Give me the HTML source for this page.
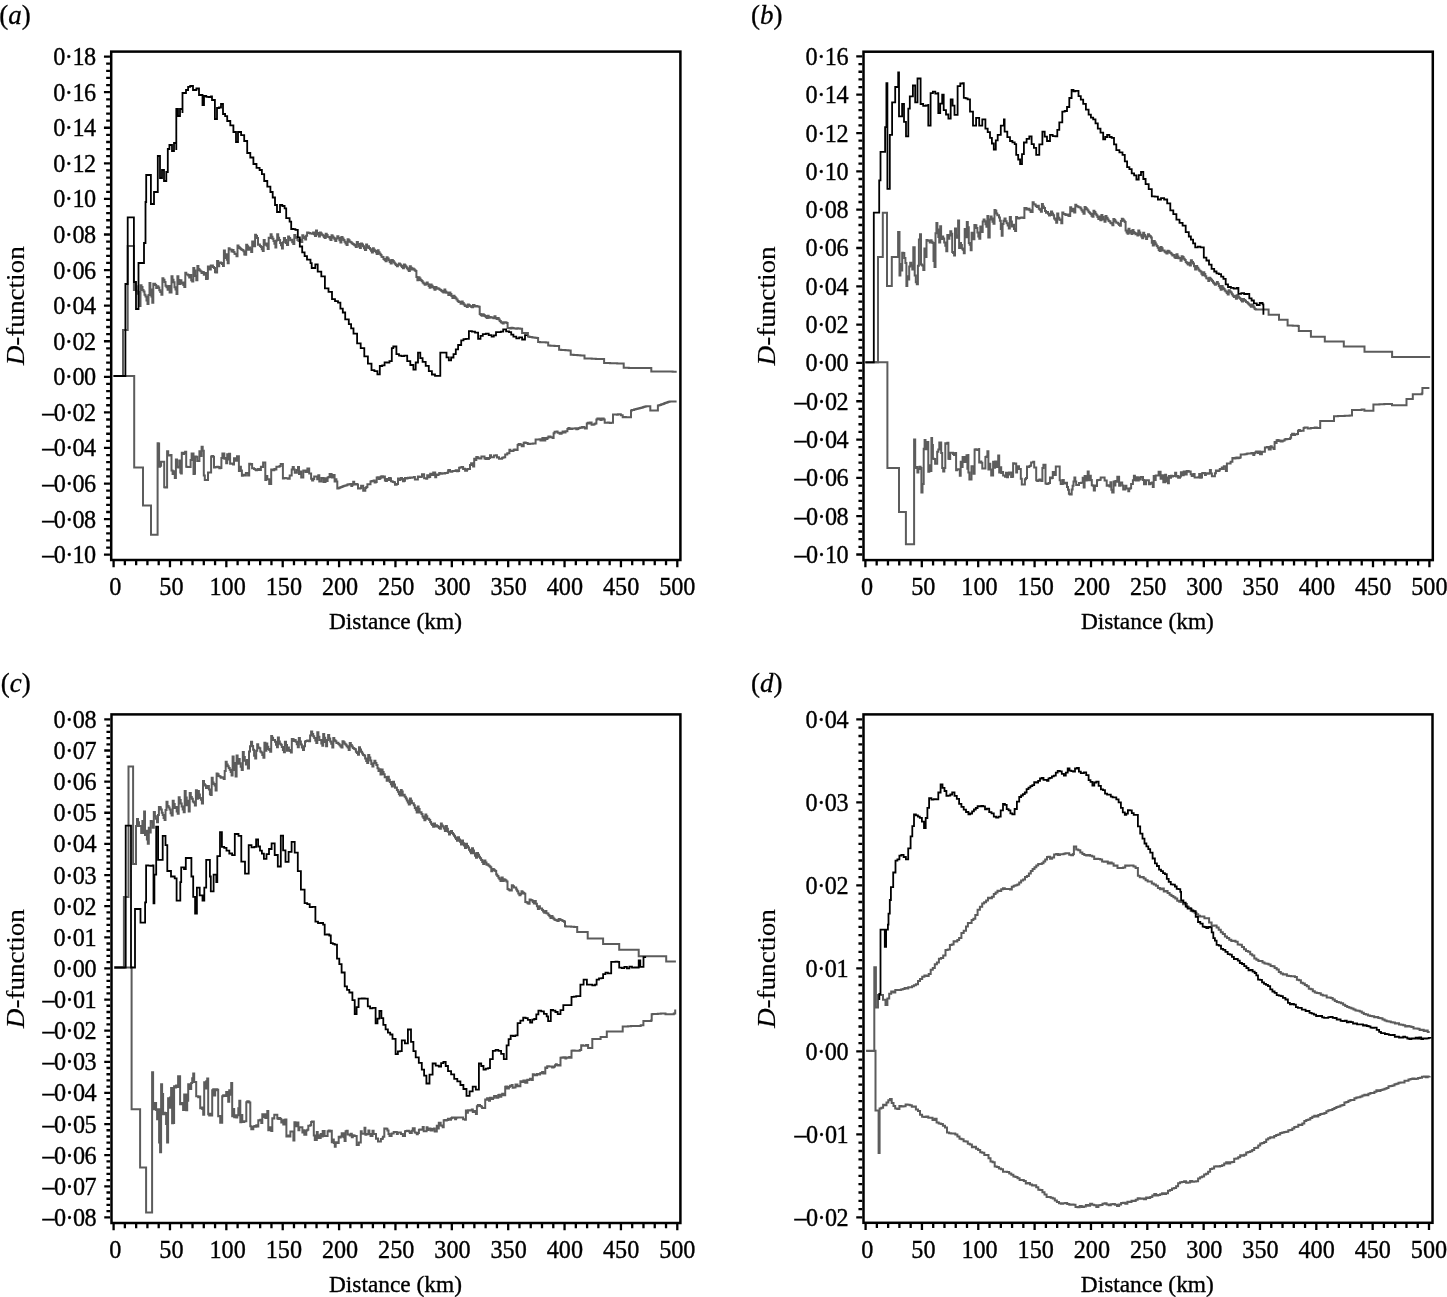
<!DOCTYPE html>
<html><head><meta charset="utf-8"><style>
html,body{margin:0;padding:0;background:#fff;}
svg{display:block;}
.t{font-family:"Liberation Serif", "DejaVu Serif", serif;font-size:24.2px;fill:#000;stroke:#000;stroke-width:0.35px;}
.xl{font-family:"Liberation Serif", "DejaVu Serif", serif;font-size:23.6px;fill:#000;stroke:#000;stroke-width:0.35px;}
.yl{font-family:"Liberation Serif", "DejaVu Serif", serif;font-size:26px;fill:#000;stroke:#000;stroke-width:0.15px;}
.pl{font-family:"Liberation Serif", "DejaVu Serif", serif;font-size:27px;fill:#000;stroke:#000;stroke-width:0.3px;}
</style></head><body>
<svg width="1447" height="1297" viewBox="0 0 1447 1297">
<rect width="1447" height="1297" fill="#fff"/>
<rect x="111.20" y="51.60" width="569.20" height="508.40" fill="none" stroke="#000" stroke-width="2.5"/>
<path d="M113.60 560.00V567.20M124.87 560.00V565.30M136.15 560.00V565.30M147.42 560.00V565.30M158.70 560.00V565.30M169.97 560.00V567.20M181.24 560.00V565.30M192.52 560.00V565.30M203.79 560.00V565.30M215.07 560.00V565.30M226.34 560.00V567.20M237.61 560.00V565.30M248.89 560.00V565.30M260.16 560.00V565.30M271.44 560.00V565.30M282.71 560.00V567.20M293.98 560.00V565.30M305.26 560.00V565.30M316.53 560.00V565.30M327.81 560.00V565.30M339.08 560.00V567.20M350.35 560.00V565.30M361.63 560.00V565.30M372.90 560.00V565.30M384.18 560.00V565.30M395.45 560.00V567.20M406.72 560.00V565.30M418.00 560.00V565.30M429.27 560.00V565.30M440.55 560.00V565.30M451.82 560.00V567.20M463.09 560.00V565.30M474.37 560.00V565.30M485.64 560.00V565.30M496.92 560.00V565.30M508.19 560.00V567.20M519.46 560.00V565.30M530.74 560.00V565.30M542.01 560.00V565.30M553.29 560.00V565.30M564.56 560.00V567.20M575.83 560.00V565.30M587.11 560.00V565.30M598.38 560.00V565.30M609.66 560.00V565.30M620.93 560.00V567.20M632.20 560.00V565.30M643.48 560.00V565.30M654.75 560.00V565.30M666.03 560.00V565.30M677.30 560.00V567.20" stroke="#000" stroke-width="2.3" fill="none"/>
<path d="M109.95 56.60H103.95M109.95 63.72H106.15M109.95 70.83H106.15M109.95 77.95H106.15M109.95 85.06H106.15M109.95 92.18H103.95M109.95 99.29H106.15M109.95 106.41H106.15M109.95 113.53H106.15M109.95 120.64H106.15M109.95 127.76H103.95M109.95 134.87H106.15M109.95 141.99H106.15M109.95 149.10H106.15M109.95 156.22H106.15M109.95 163.34H103.95M109.95 170.45H106.15M109.95 177.57H106.15M109.95 184.68H106.15M109.95 191.80H106.15M109.95 198.91H103.95M109.95 206.03H106.15M109.95 213.15H106.15M109.95 220.26H106.15M109.95 227.38H106.15M109.95 234.49H103.95M109.95 241.61H106.15M109.95 248.72H106.15M109.95 255.84H106.15M109.95 262.96H106.15M109.95 270.07H103.95M109.95 277.19H106.15M109.95 284.30H106.15M109.95 291.42H106.15M109.95 298.53H106.15M109.95 305.65H103.95M109.95 312.77H106.15M109.95 319.88H106.15M109.95 327.00H106.15M109.95 334.11H106.15M109.95 341.23H103.95M109.95 348.34H106.15M109.95 355.46H106.15M109.95 362.58H106.15M109.95 369.69H106.15M109.95 376.81H103.95M109.95 383.92H106.15M109.95 391.04H106.15M109.95 398.15H106.15M109.95 405.27H106.15M109.95 412.39H103.95M109.95 419.50H106.15M109.95 426.62H106.15M109.95 433.73H106.15M109.95 440.85H106.15M109.95 447.96H103.95M109.95 455.08H106.15M109.95 462.20H106.15M109.95 469.31H106.15M109.95 476.43H106.15M109.95 483.54H103.95M109.95 490.66H106.15M109.95 497.77H106.15M109.95 504.89H106.15M109.95 512.01H106.15M109.95 519.12H103.95M109.95 526.24H106.15M109.95 533.35H106.15M109.95 540.47H106.15M109.95 547.58H106.15M109.95 554.70H103.95" stroke="#000" stroke-width="2.3" fill="none"/>
<text x="96.20" y="65.10" text-anchor="end" class="t" textLength="42.96" lengthAdjust="spacing">0·18</text>
<text x="96.20" y="100.68" text-anchor="end" class="t" textLength="42.96" lengthAdjust="spacing">0·16</text>
<text x="96.20" y="136.26" text-anchor="end" class="t" textLength="42.96" lengthAdjust="spacing">0·14</text>
<text x="96.20" y="171.84" text-anchor="end" class="t" textLength="42.96" lengthAdjust="spacing">0·12</text>
<text x="96.20" y="207.41" text-anchor="end" class="t" textLength="42.96" lengthAdjust="spacing">0·10</text>
<text x="96.20" y="242.99" text-anchor="end" class="t" textLength="42.96" lengthAdjust="spacing">0·08</text>
<text x="96.20" y="278.57" text-anchor="end" class="t" textLength="42.96" lengthAdjust="spacing">0·06</text>
<text x="96.20" y="314.15" text-anchor="end" class="t" textLength="42.96" lengthAdjust="spacing">0·04</text>
<text x="96.20" y="349.73" text-anchor="end" class="t" textLength="42.96" lengthAdjust="spacing">0·02</text>
<text x="96.20" y="385.31" text-anchor="end" class="t" textLength="42.96" lengthAdjust="spacing">0·00</text>
<text x="96.20" y="420.89" text-anchor="end" class="t" textLength="54.06" lengthAdjust="spacing">–0·02</text>
<text x="96.20" y="456.46" text-anchor="end" class="t" textLength="54.06" lengthAdjust="spacing">–0·04</text>
<text x="96.20" y="492.04" text-anchor="end" class="t" textLength="54.06" lengthAdjust="spacing">–0·06</text>
<text x="96.20" y="527.62" text-anchor="end" class="t" textLength="54.06" lengthAdjust="spacing">–0·08</text>
<text x="96.20" y="563.20" text-anchor="end" class="t" textLength="54.06" lengthAdjust="spacing">–0·10</text>
<text x="115.20" y="595.00" text-anchor="middle" class="t">0</text>
<text x="171.41" y="595.00" text-anchor="middle" class="t">50</text>
<text x="227.62" y="595.00" text-anchor="middle" class="t">100</text>
<text x="283.83" y="595.00" text-anchor="middle" class="t">150</text>
<text x="340.04" y="595.00" text-anchor="middle" class="t">200</text>
<text x="396.25" y="595.00" text-anchor="middle" class="t">250</text>
<text x="452.46" y="595.00" text-anchor="middle" class="t">300</text>
<text x="508.67" y="595.00" text-anchor="middle" class="t">350</text>
<text x="564.88" y="595.00" text-anchor="middle" class="t">400</text>
<text x="621.09" y="595.00" text-anchor="middle" class="t">450</text>
<text x="677.30" y="595.00" text-anchor="middle" class="t">500</text>
<text x="395.45" y="628.70" text-anchor="middle" class="xl" textLength="133" lengthAdjust="spacingAndGlyphs">Distance (km)</text>
<text transform="translate(23.50 305.80) rotate(-90)" text-anchor="middle" class="yl" textLength="119" lengthAdjust="spacingAndGlyphs"><tspan font-style="italic">D</tspan>-function</text>
<text x="-0.70" y="24.00" class="pl">(<tspan font-style="italic">a</tspan>)</text>
<rect x="863.50" y="51.70" width="569.30" height="508.40" fill="none" stroke="#000" stroke-width="2.5"/>
<path d="M865.40 560.10V567.30M876.68 560.10V565.40M887.96 560.10V565.40M899.24 560.10V565.40M910.52 560.10V565.40M921.80 560.10V567.30M933.08 560.10V565.40M944.36 560.10V565.40M955.64 560.10V565.40M966.92 560.10V565.40M978.20 560.10V567.30M989.48 560.10V565.40M1000.76 560.10V565.40M1012.04 560.10V565.40M1023.32 560.10V565.40M1034.60 560.10V567.30M1045.88 560.10V565.40M1057.16 560.10V565.40M1068.44 560.10V565.40M1079.72 560.10V565.40M1091.00 560.10V567.30M1102.28 560.10V565.40M1113.56 560.10V565.40M1124.84 560.10V565.40M1136.12 560.10V565.40M1147.40 560.10V567.30M1158.68 560.10V565.40M1169.96 560.10V565.40M1181.24 560.10V565.40M1192.52 560.10V565.40M1203.80 560.10V567.30M1215.08 560.10V565.40M1226.36 560.10V565.40M1237.64 560.10V565.40M1248.92 560.10V565.40M1260.20 560.10V567.30M1271.48 560.10V565.40M1282.76 560.10V565.40M1294.04 560.10V565.40M1305.32 560.10V565.40M1316.60 560.10V567.30M1327.88 560.10V565.40M1339.16 560.10V565.40M1350.44 560.10V565.40M1361.72 560.10V565.40M1373.00 560.10V567.30M1384.28 560.10V565.40M1395.56 560.10V565.40M1406.84 560.10V565.40M1418.12 560.10V565.40M1429.40 560.10V567.30" stroke="#000" stroke-width="2.3" fill="none"/>
<path d="M862.25 56.40H856.25M862.25 64.06H858.45M862.25 71.73H858.45M862.25 79.39H858.45M862.25 87.05H858.45M862.25 94.72H856.25M862.25 102.38H858.45M862.25 110.04H858.45M862.25 117.70H858.45M862.25 125.37H858.45M862.25 133.03H856.25M862.25 140.69H858.45M862.25 148.36H858.45M862.25 156.02H858.45M862.25 163.68H858.45M862.25 171.35H856.25M862.25 179.01H858.45M862.25 186.67H858.45M862.25 194.34H858.45M862.25 202.00H858.45M862.25 209.66H856.25M862.25 217.32H858.45M862.25 224.99H858.45M862.25 232.65H858.45M862.25 240.31H858.45M862.25 247.98H856.25M862.25 255.64H858.45M862.25 263.30H858.45M862.25 270.97H858.45M862.25 278.63H858.45M862.25 286.29H856.25M862.25 293.96H858.45M862.25 301.62H858.45M862.25 309.28H858.45M862.25 316.94H858.45M862.25 324.61H856.25M862.25 332.27H858.45M862.25 339.93H858.45M862.25 347.60H858.45M862.25 355.26H858.45M862.25 362.92H856.25M862.25 370.59H858.45M862.25 378.25H858.45M862.25 385.91H858.45M862.25 393.58H858.45M862.25 401.24H856.25M862.25 408.90H858.45M862.25 416.56H858.45M862.25 424.23H858.45M862.25 431.89H858.45M862.25 439.55H856.25M862.25 447.22H858.45M862.25 454.88H858.45M862.25 462.54H858.45M862.25 470.21H858.45M862.25 477.87H856.25M862.25 485.53H858.45M862.25 493.20H858.45M862.25 500.86H858.45M862.25 508.52H858.45M862.25 516.18H856.25M862.25 523.85H858.45M862.25 531.51H858.45M862.25 539.17H858.45M862.25 546.84H858.45M862.25 554.50H856.25" stroke="#000" stroke-width="2.3" fill="none"/>
<text x="848.50" y="64.90" text-anchor="end" class="t" textLength="42.96" lengthAdjust="spacing">0·16</text>
<text x="848.50" y="103.22" text-anchor="end" class="t" textLength="42.96" lengthAdjust="spacing">0·14</text>
<text x="848.50" y="141.53" text-anchor="end" class="t" textLength="42.96" lengthAdjust="spacing">0·12</text>
<text x="848.50" y="179.85" text-anchor="end" class="t" textLength="42.96" lengthAdjust="spacing">0·10</text>
<text x="848.50" y="218.16" text-anchor="end" class="t" textLength="42.96" lengthAdjust="spacing">0·08</text>
<text x="848.50" y="256.48" text-anchor="end" class="t" textLength="42.96" lengthAdjust="spacing">0·06</text>
<text x="848.50" y="294.79" text-anchor="end" class="t" textLength="42.96" lengthAdjust="spacing">0·04</text>
<text x="848.50" y="333.11" text-anchor="end" class="t" textLength="42.96" lengthAdjust="spacing">0·02</text>
<text x="848.50" y="371.42" text-anchor="end" class="t" textLength="42.96" lengthAdjust="spacing">0·00</text>
<text x="848.50" y="409.74" text-anchor="end" class="t" textLength="54.06" lengthAdjust="spacing">–0·02</text>
<text x="848.50" y="448.05" text-anchor="end" class="t" textLength="54.06" lengthAdjust="spacing">–0·04</text>
<text x="848.50" y="486.37" text-anchor="end" class="t" textLength="54.06" lengthAdjust="spacing">–0·06</text>
<text x="848.50" y="524.68" text-anchor="end" class="t" textLength="54.06" lengthAdjust="spacing">–0·08</text>
<text x="848.50" y="563.00" text-anchor="end" class="t" textLength="54.06" lengthAdjust="spacing">–0·10</text>
<text x="867.00" y="595.10" text-anchor="middle" class="t">0</text>
<text x="923.24" y="595.10" text-anchor="middle" class="t">50</text>
<text x="979.48" y="595.10" text-anchor="middle" class="t">100</text>
<text x="1035.72" y="595.10" text-anchor="middle" class="t">150</text>
<text x="1091.96" y="595.10" text-anchor="middle" class="t">200</text>
<text x="1148.20" y="595.10" text-anchor="middle" class="t">250</text>
<text x="1204.44" y="595.10" text-anchor="middle" class="t">300</text>
<text x="1260.68" y="595.10" text-anchor="middle" class="t">350</text>
<text x="1316.92" y="595.10" text-anchor="middle" class="t">400</text>
<text x="1373.16" y="595.10" text-anchor="middle" class="t">450</text>
<text x="1429.40" y="595.10" text-anchor="middle" class="t">500</text>
<text x="1147.40" y="628.80" text-anchor="middle" class="xl" textLength="133" lengthAdjust="spacingAndGlyphs">Distance (km)</text>
<text transform="translate(775.30 305.90) rotate(-90)" text-anchor="middle" class="yl" textLength="119" lengthAdjust="spacingAndGlyphs"><tspan font-style="italic">D</tspan>-function</text>
<text x="751.00" y="24.00" class="pl">(<tspan font-style="italic">b</tspan>)</text>
<rect x="111.50" y="714.40" width="568.90" height="508.60" fill="none" stroke="#000" stroke-width="2.5"/>
<path d="M113.60 1223.00V1230.20M124.87 1223.00V1228.30M136.15 1223.00V1228.30M147.42 1223.00V1228.30M158.70 1223.00V1228.30M169.97 1223.00V1230.20M181.24 1223.00V1228.30M192.52 1223.00V1228.30M203.79 1223.00V1228.30M215.07 1223.00V1228.30M226.34 1223.00V1230.20M237.61 1223.00V1228.30M248.89 1223.00V1228.30M260.16 1223.00V1228.30M271.44 1223.00V1228.30M282.71 1223.00V1230.20M293.98 1223.00V1228.30M305.26 1223.00V1228.30M316.53 1223.00V1228.30M327.81 1223.00V1228.30M339.08 1223.00V1230.20M350.35 1223.00V1228.30M361.63 1223.00V1228.30M372.90 1223.00V1228.30M384.18 1223.00V1228.30M395.45 1223.00V1230.20M406.72 1223.00V1228.30M418.00 1223.00V1228.30M429.27 1223.00V1228.30M440.55 1223.00V1228.30M451.82 1223.00V1230.20M463.09 1223.00V1228.30M474.37 1223.00V1228.30M485.64 1223.00V1228.30M496.92 1223.00V1228.30M508.19 1223.00V1230.20M519.46 1223.00V1228.30M530.74 1223.00V1228.30M542.01 1223.00V1228.30M553.29 1223.00V1228.30M564.56 1223.00V1230.20M575.83 1223.00V1228.30M587.11 1223.00V1228.30M598.38 1223.00V1228.30M609.66 1223.00V1228.30M620.93 1223.00V1230.20M632.20 1223.00V1228.30M643.48 1223.00V1228.30M654.75 1223.00V1228.30M666.03 1223.00V1228.30M677.30 1223.00V1230.20" stroke="#000" stroke-width="2.3" fill="none"/>
<path d="M110.25 719.40H104.25M110.25 725.62H106.45M110.25 731.85H106.45M110.25 738.07H106.45M110.25 744.30H106.45M110.25 750.52H104.25M110.25 756.75H106.45M110.25 762.98H106.45M110.25 769.20H106.45M110.25 775.42H106.45M110.25 781.65H104.25M110.25 787.88H106.45M110.25 794.10H106.45M110.25 800.33H106.45M110.25 806.55H106.45M110.25 812.77H104.25M110.25 819.00H106.45M110.25 825.23H106.45M110.25 831.45H106.45M110.25 837.67H106.45M110.25 843.90H104.25M110.25 850.12H106.45M110.25 856.35H106.45M110.25 862.58H106.45M110.25 868.80H106.45M110.25 875.03H104.25M110.25 881.25H106.45M110.25 887.48H106.45M110.25 893.70H106.45M110.25 899.92H106.45M110.25 906.15H104.25M110.25 912.38H106.45M110.25 918.60H106.45M110.25 924.83H106.45M110.25 931.05H106.45M110.25 937.28H104.25M110.25 943.50H106.45M110.25 949.73H106.45M110.25 955.95H106.45M110.25 962.17H106.45M110.25 968.40H104.25M110.25 974.62H106.45M110.25 980.85H106.45M110.25 987.08H106.45M110.25 993.30H106.45M110.25 999.53H104.25M110.25 1005.75H106.45M110.25 1011.98H106.45M110.25 1018.20H106.45M110.25 1024.43H106.45M110.25 1030.65H104.25M110.25 1036.88H106.45M110.25 1043.10H106.45M110.25 1049.33H106.45M110.25 1055.55H106.45M110.25 1061.78H104.25M110.25 1068.00H106.45M110.25 1074.23H106.45M110.25 1080.45H106.45M110.25 1086.68H106.45M110.25 1092.90H104.25M110.25 1099.12H106.45M110.25 1105.35H106.45M110.25 1111.58H106.45M110.25 1117.80H106.45M110.25 1124.03H104.25M110.25 1130.25H106.45M110.25 1136.48H106.45M110.25 1142.70H106.45M110.25 1148.93H106.45M110.25 1155.15H104.25M110.25 1161.38H106.45M110.25 1167.60H106.45M110.25 1173.83H106.45M110.25 1180.05H106.45M110.25 1186.28H104.25M110.25 1192.50H106.45M110.25 1198.73H106.45M110.25 1204.95H106.45M110.25 1211.18H106.45M110.25 1217.40H104.25" stroke="#000" stroke-width="2.3" fill="none"/>
<text x="96.50" y="727.90" text-anchor="end" class="t" textLength="42.96" lengthAdjust="spacing">0·08</text>
<text x="96.50" y="759.02" text-anchor="end" class="t" textLength="42.96" lengthAdjust="spacing">0·07</text>
<text x="96.50" y="790.15" text-anchor="end" class="t" textLength="42.96" lengthAdjust="spacing">0·06</text>
<text x="96.50" y="821.27" text-anchor="end" class="t" textLength="42.96" lengthAdjust="spacing">0·05</text>
<text x="96.50" y="852.40" text-anchor="end" class="t" textLength="42.96" lengthAdjust="spacing">0·04</text>
<text x="96.50" y="883.52" text-anchor="end" class="t" textLength="42.96" lengthAdjust="spacing">0·03</text>
<text x="96.50" y="914.65" text-anchor="end" class="t" textLength="42.96" lengthAdjust="spacing">0·02</text>
<text x="96.50" y="945.78" text-anchor="end" class="t" textLength="42.96" lengthAdjust="spacing">0·01</text>
<text x="96.50" y="976.90" text-anchor="end" class="t" textLength="42.96" lengthAdjust="spacing">0·00</text>
<text x="96.50" y="1008.03" text-anchor="end" class="t" textLength="54.06" lengthAdjust="spacing">–0·01</text>
<text x="96.50" y="1039.15" text-anchor="end" class="t" textLength="54.06" lengthAdjust="spacing">–0·02</text>
<text x="96.50" y="1070.28" text-anchor="end" class="t" textLength="54.06" lengthAdjust="spacing">–0·03</text>
<text x="96.50" y="1101.40" text-anchor="end" class="t" textLength="54.06" lengthAdjust="spacing">–0·04</text>
<text x="96.50" y="1132.53" text-anchor="end" class="t" textLength="54.06" lengthAdjust="spacing">–0·05</text>
<text x="96.50" y="1163.65" text-anchor="end" class="t" textLength="54.06" lengthAdjust="spacing">–0·06</text>
<text x="96.50" y="1194.78" text-anchor="end" class="t" textLength="54.06" lengthAdjust="spacing">–0·07</text>
<text x="96.50" y="1225.90" text-anchor="end" class="t" textLength="54.06" lengthAdjust="spacing">–0·08</text>
<text x="115.20" y="1258.00" text-anchor="middle" class="t">0</text>
<text x="171.41" y="1258.00" text-anchor="middle" class="t">50</text>
<text x="227.62" y="1258.00" text-anchor="middle" class="t">100</text>
<text x="283.83" y="1258.00" text-anchor="middle" class="t">150</text>
<text x="340.04" y="1258.00" text-anchor="middle" class="t">200</text>
<text x="396.25" y="1258.00" text-anchor="middle" class="t">250</text>
<text x="452.46" y="1258.00" text-anchor="middle" class="t">300</text>
<text x="508.67" y="1258.00" text-anchor="middle" class="t">350</text>
<text x="564.88" y="1258.00" text-anchor="middle" class="t">400</text>
<text x="621.09" y="1258.00" text-anchor="middle" class="t">450</text>
<text x="677.30" y="1258.00" text-anchor="middle" class="t">500</text>
<text x="395.45" y="1291.70" text-anchor="middle" class="xl" textLength="133" lengthAdjust="spacingAndGlyphs">Distance (km)</text>
<text transform="translate(23.50 968.70) rotate(-90)" text-anchor="middle" class="yl" textLength="119" lengthAdjust="spacingAndGlyphs"><tspan font-style="italic">D</tspan>-function</text>
<text x="0.80" y="691.60" class="pl">(<tspan font-style="italic">c</tspan>)</text>
<rect x="863.50" y="714.40" width="569.00" height="508.40" fill="none" stroke="#000" stroke-width="2.5"/>
<path d="M865.60 1222.80V1230.00M876.87 1222.80V1228.10M888.14 1222.80V1228.10M899.40 1222.80V1228.10M910.67 1222.80V1228.10M921.94 1222.80V1230.00M933.21 1222.80V1228.10M944.48 1222.80V1228.10M955.74 1222.80V1228.10M967.01 1222.80V1228.10M978.28 1222.80V1230.00M989.55 1222.80V1228.10M1000.82 1222.80V1228.10M1012.08 1222.80V1228.10M1023.35 1222.80V1228.10M1034.62 1222.80V1230.00M1045.89 1222.80V1228.10M1057.16 1222.80V1228.10M1068.42 1222.80V1228.10M1079.69 1222.80V1228.10M1090.96 1222.80V1230.00M1102.23 1222.80V1228.10M1113.50 1222.80V1228.10M1124.76 1222.80V1228.10M1136.03 1222.80V1228.10M1147.30 1222.80V1230.00M1158.57 1222.80V1228.10M1169.84 1222.80V1228.10M1181.10 1222.80V1228.10M1192.37 1222.80V1228.10M1203.64 1222.80V1230.00M1214.91 1222.80V1228.10M1226.18 1222.80V1228.10M1237.44 1222.80V1228.10M1248.71 1222.80V1228.10M1259.98 1222.80V1230.00M1271.25 1222.80V1228.10M1282.52 1222.80V1228.10M1293.78 1222.80V1228.10M1305.05 1222.80V1228.10M1316.32 1222.80V1230.00M1327.59 1222.80V1228.10M1338.86 1222.80V1228.10M1350.12 1222.80V1228.10M1361.39 1222.80V1228.10M1372.66 1222.80V1230.00M1383.93 1222.80V1228.10M1395.20 1222.80V1228.10M1406.46 1222.80V1228.10M1417.73 1222.80V1228.10M1429.00 1222.80V1230.00" stroke="#000" stroke-width="2.3" fill="none"/>
<path d="M862.25 719.40H856.25M862.25 727.70H858.45M862.25 736.00H858.45M862.25 744.30H858.45M862.25 752.60H858.45M862.25 760.90H858.45M862.25 769.20H858.45M862.25 777.50H858.45M862.25 785.80H858.45M862.25 794.10H858.45M862.25 802.40H856.25M862.25 810.70H858.45M862.25 819.00H858.45M862.25 827.30H858.45M862.25 835.60H858.45M862.25 843.90H858.45M862.25 852.20H858.45M862.25 860.50H858.45M862.25 868.80H858.45M862.25 877.10H858.45M862.25 885.40H856.25M862.25 893.70H858.45M862.25 902.00H858.45M862.25 910.30H858.45M862.25 918.60H858.45M862.25 926.90H858.45M862.25 935.20H858.45M862.25 943.50H858.45M862.25 951.80H858.45M862.25 960.10H858.45M862.25 968.40H856.25M862.25 976.70H858.45M862.25 985.00H858.45M862.25 993.30H858.45M862.25 1001.60H858.45M862.25 1009.90H858.45M862.25 1018.20H858.45M862.25 1026.50H858.45M862.25 1034.80H858.45M862.25 1043.10H858.45M862.25 1051.40H856.25M862.25 1059.70H858.45M862.25 1068.00H858.45M862.25 1076.30H858.45M862.25 1084.60H858.45M862.25 1092.90H858.45M862.25 1101.20H858.45M862.25 1109.50H858.45M862.25 1117.80H858.45M862.25 1126.10H858.45M862.25 1134.40H856.25M862.25 1142.70H858.45M862.25 1151.00H858.45M862.25 1159.30H858.45M862.25 1167.60H858.45M862.25 1175.90H858.45M862.25 1184.20H858.45M862.25 1192.50H858.45M862.25 1200.80H858.45M862.25 1209.10H858.45M862.25 1217.40H856.25" stroke="#000" stroke-width="2.3" fill="none"/>
<text x="848.50" y="727.90" text-anchor="end" class="t" textLength="42.96" lengthAdjust="spacing">0·04</text>
<text x="848.50" y="810.90" text-anchor="end" class="t" textLength="42.96" lengthAdjust="spacing">0·03</text>
<text x="848.50" y="893.90" text-anchor="end" class="t" textLength="42.96" lengthAdjust="spacing">0·02</text>
<text x="848.50" y="976.90" text-anchor="end" class="t" textLength="42.96" lengthAdjust="spacing">0·01</text>
<text x="848.50" y="1059.90" text-anchor="end" class="t" textLength="42.96" lengthAdjust="spacing">0·00</text>
<text x="848.50" y="1142.90" text-anchor="end" class="t" textLength="54.06" lengthAdjust="spacing">–0·01</text>
<text x="848.50" y="1225.90" text-anchor="end" class="t" textLength="54.06" lengthAdjust="spacing">–0·02</text>
<text x="867.20" y="1257.80" text-anchor="middle" class="t">0</text>
<text x="923.38" y="1257.80" text-anchor="middle" class="t">50</text>
<text x="979.56" y="1257.80" text-anchor="middle" class="t">100</text>
<text x="1035.74" y="1257.80" text-anchor="middle" class="t">150</text>
<text x="1091.92" y="1257.80" text-anchor="middle" class="t">200</text>
<text x="1148.10" y="1257.80" text-anchor="middle" class="t">250</text>
<text x="1204.28" y="1257.80" text-anchor="middle" class="t">300</text>
<text x="1260.46" y="1257.80" text-anchor="middle" class="t">350</text>
<text x="1316.64" y="1257.80" text-anchor="middle" class="t">400</text>
<text x="1372.82" y="1257.80" text-anchor="middle" class="t">450</text>
<text x="1429.00" y="1257.80" text-anchor="middle" class="t">500</text>
<text x="1147.30" y="1291.50" text-anchor="middle" class="xl" textLength="133" lengthAdjust="spacingAndGlyphs">Distance (km)</text>
<text transform="translate(775.30 968.60) rotate(-90)" text-anchor="middle" class="yl" textLength="119" lengthAdjust="spacingAndGlyphs"><tspan font-style="italic">D</tspan>-function</text>
<text x="751.00" y="691.60" class="pl">(<tspan font-style="italic">d</tspan>)</text>
<path d="M113.6 376.0H114.6V376.0H115.7V376.0H116.7V376.0H117.8V376.0H118.8V376.0H119.9V376.0H120.9V376.0H122.0V376.0H123.0V376.0V330.0H123.9V330.0H124.9V330.0H125.8V330.0H126.8V330.0H127.7V330.0V246.0H128.7V246.0H129.8V246.0H130.8V246.0H131.8V246.0H132.9V246.0H133.9V246.0V290.0H134.8V282.2H135.7V286.2H136.7V290.7H137.6V293.8H138.5V292.0H139.5V306.1H140.5V285.2H141.5V287.0H142.5V290.0H143.5V291.5H144.5V294.8H145.5V296.6H146.5V300.4H147.5V304.0H148.5V295.0H149.5V283.0H150.4V289.5H151.4V296.6H152.3V302.7H153.3V283.8H154.3V283.7H155.2V285.1H156.2V288.0H157.2V286.2H158.3V287.4H159.3V290.3H160.3V292.0H161.4V294.8H162.4V278.3H163.4V279.7H164.5V282.1H165.5V285.7H166.5V287.3H167.6V289.8H168.6V286.0H169.6V292.6H170.6V292.5H171.5V276.3H172.5V279.7H173.5V282.3H174.5V287.3H175.5V289.5H176.5V293.9H177.4V276.3H178.4V280.1H179.4V284.0H180.4V280.2H181.4V283.4H182.3V282.6H183.3V284.9H184.3V287.1H185.3V272.7H186.3V274.5H187.3V274.6H188.2V275.6H189.2V277.6H190.2V275.0H191.2V280.2H192.2V281.6H193.3V267.9H194.3V270.5H195.3V276.0H196.3V280.3H197.4V266.1H198.4V269.0H199.4V270.3H200.4V271.3H201.5V273.0H202.5V272.0H203.8V274.7H205.0V273.0H206.0V279.0H206.9V278.7H207.9V266.4H208.9V267.0H209.8V269.6H210.8V265.5H211.9V265.4H212.9V267.1H214.0V268.0H215.0V272.2H216.1V272.6H217.1V260.9H218.2V266.3H219.2V262.6H220.1V262.6H221.1V262.9H222.0V264.1H223.0V266.0H223.9V250.5H224.9V258.0H225.8V254.3H226.8V259.7H227.7V263.2H228.7V248.3H229.6V249.4H230.6V249.5H231.5V251.4H232.5V249.9H233.5V252.1H234.5V253.7H235.5V254.0H236.5V256.3H237.5V245.6H238.5V246.9H239.5V247.9H240.5V249.0H241.5V249.8H242.4V249.9H243.4V251.3H244.3V254.5H245.3V254.7H246.2V244.7H247.2V246.2H248.1V249.8H249.1V247.6H250.1V249.2H251.2V252.0H252.2V241.5H253.2V244.3H254.1V246.3H255.1V234.8H256.1V235.9H257.0V238.1H258.0V244.8H259.0V244.5H259.9V246.1H260.9V246.9H261.8V249.3H262.8V250.9H263.7V240.0H264.7V244.8H265.7V243.5H266.7V245.7H267.7V248.9H268.7V237.8H269.7V238.1H270.6V234.3H271.6V236.7H272.5V238.7H273.5V241.1H274.4V243.7H275.4V247.4H276.3V240.6H277.2V234.3H278.2V237.7H279.1V240.1H280.1V243.0H281.0V245.2H282.0V248.6H282.9V242.3H283.9V238.0H285.0V239.9H286.0V243.1H287.0V245.1H288.1V236.4H289.1V237.9H290.2V240.3H291.2V239.8H292.2V242.2H293.3V244.1H294.3V235.0H295.4V236.9H296.4V237.9H297.4V239.9H298.5V241.1H299.5V239.8H300.4V241.4H301.4V242.1H302.3V235.2H303.3V236.7H304.2V238.1H305.2V239.4H306.1V235.7H307.1V232.4H308.1V232.8H309.1V233.1H310.1V233.4H311.1V233.6H312.1V233.8H313.1V232.4H314.1V234.3H315.0V236.0H316.0V230.6H317.0V232.9H317.9V234.6H318.9V236.5H319.9V232.4H320.9V233.4H321.8V234.8H322.8V235.6H323.8V237.1H324.7V238.0H325.7V233.8H326.7V235.0H327.6V236.7H328.6V237.0H329.6V238.6H330.5V240.0H331.5V235.2H332.5V236.4H333.4V237.7H334.4V239.3H335.3V241.0H336.3V238.5H337.3V236.3H338.4V238.0H339.4V240.2H340.4V242.6H341.4V237.1H342.5V238.4H343.5V240.1H344.5V241.8H345.5V243.4H346.6V245.1H347.6V239.2H348.6V240.2H349.6V241.8H350.7V242.2H351.7V243.2H352.7V244.0H353.8V244.8H354.8V245.6H355.8V246.9H356.8V242.1H357.9V244.0H358.9V246.4H359.9V248.1H360.9V243.5H362.0V244.6H363.0V246.3H364.0V248.3H365.0V250.1H366.1V244.6H367.1V247.8H368.1V246.3H369.0V248.0H370.0V249.3H371.0V250.8H371.9V252.6H372.9V248.3H373.8V249.8H374.8V250.9H375.8V252.3H376.7V254.1H377.7V250.2H378.6V252.2H379.6V253.7H380.6V255.0H381.5V256.7H382.5V257.1H383.5V259.0H384.6V260.0H385.6V261.3H386.6V257.2H387.6V258.5H388.7V260.2H389.7V262.0H390.7V263.5H391.7V259.9H392.8V260.9H393.8V262.5H394.8V263.8H395.8V265.0H396.9V266.3H397.9V264.8H398.9V263.5H399.9V264.5H400.9V265.7H401.9V267.1H402.9V268.2H403.9V264.6H404.9V265.6H405.8V266.8H406.8V268.2H407.8V269.5H408.8V270.9H409.8V266.2H410.8V267.7H411.8V269.4H412.7V268.6H413.6V269.2H414.6V270.2H415.5V271.0H416.4V277.1H417.4V280.3H418.5V277.3H419.5V278.6H420.5V279.9H421.6V281.0H422.6V282.4H423.6V283.4H424.7V284.8H425.7V284.0H426.7V282.4H427.7V284.2H428.6V286.1H429.6V287.7H430.6V284.6H431.6V285.7H432.6V286.9H433.6V288.2H434.5V289.7H435.5V287.1H436.5V288.7H437.5V288.3H438.5V288.8H439.4V289.6H440.4V290.1H441.4V291.0H442.4V291.7H443.4V292.5H444.4V289.6H445.3V291.4H446.3V292.7H447.3V292.5H448.3V295.1H449.4V292.6H450.4V294.1H451.4V296.1H452.4V297.9H453.5V295.8H454.5V296.9H455.5V298.2H456.5V299.6H457.6V300.9H458.6V301.9H459.6V301.8H460.6V303.7H461.7V301.4H462.7V302.9H463.7V304.4H464.8V305.9H465.8V305.6H466.8V306.9H467.8V304.6H468.9V305.2H469.9V305.9H470.9V306.7H471.9V307.2H473.0V305.1H474.0V305.4H475.0V306.4H475.9V305.9H476.9V306.3H477.8V306.5H478.8V306.8H479.7V314.1H480.7V315.1H481.7V315.8H482.7V314.2H483.7V315.1H484.7V316.0H485.7V317.0H486.7V318.1H487.7V315.8H488.7V317.7H489.7V316.9H490.6V317.3H491.6V317.6H492.6V317.8H493.5V318.2H494.5V316.3H495.5V318.0H496.6V319.1H497.6V318.0H498.7V319.5H499.7V321.0H500.8V322.3H501.8V322.8H502.8V323.5H503.7V322.2H504.7V322.3H505.7V322.6H506.6V322.9H507.6V327.9H508.6V328.1H509.5V328.3H510.5V328.5H511.5V327.8H512.4V328.0H513.4V328.2H514.4V328.4H515.3V328.5H516.3V328.7H517.3V328.2H518.2V328.5H519.2V328.6H520.2V328.7H521.1V328.8H522.1V333.0H523.1V332.9H524.0V333.0H525.0V333.0H526.0V333.1H526.9V333.1H527.9V336.6H528.9V336.8H529.8V336.9H530.8V337.1H531.8V337.2H532.7V337.4H533.7V337.5H534.7V337.7H535.6V337.8H536.6V338.0H537.4V338.0H538.1V338.0V342.1H539.1V342.1H540.0V342.2H541.0V342.2H542.0V342.2H542.9V342.3H543.9V342.3H544.9V342.3H545.8V342.4H546.8V342.4H548.2V342.4V345.6H549.2V345.6H550.3V345.7H551.3V345.7H552.4V345.8H553.4V345.8H554.5V345.9H555.5V345.9H556.6V346.0H557.6V346.0H558.4V346.0H559.1V346.0V349.7H560.1V349.8H561.2V349.9H562.2V349.9H563.3V350.0H564.3V350.1H565.4V350.2H566.4V350.2H567.5V350.3H568.5V350.4H569.6V350.4H570.7V350.4V354.7H571.7V354.8H572.6V354.8H573.6V354.9H574.6V355.0H575.5V355.0H576.5V355.1H577.5V355.2H578.4V355.2H579.4V355.3H580.4V355.4H581.3V355.4H582.3V355.5H583.4V355.5H584.5V355.5V358.4H585.5V358.4H586.5V358.5H587.6V358.5H588.6V358.6H589.6V358.6H590.6V358.6H591.7V358.7H592.7V358.7H593.7V358.8H594.7V358.8H595.8V358.9H596.8V358.9H597.8V358.9H598.8V359.0H599.9V359.0H600.9V359.1H601.9V359.1H603.0V359.1H604.1V359.1V363.0H605.1V363.0H606.1V363.1H607.1V363.1H608.1V363.1H609.1V363.1H610.1V363.2H611.1V363.2H612.1V363.2H613.2V363.2H614.2V363.3H615.2V363.3H616.2V363.3H617.2V363.4H618.2V363.4H619.2V363.4H620.2V363.4H621.2V363.5H622.2V363.5H623.0V363.5H623.7V363.5V367.8H624.7V367.8H625.7V367.8H626.7V367.8H627.8V367.8H628.8V367.9H629.8V367.9H630.8V367.9H631.8V367.9H632.8V367.9H633.9V367.9H634.9V367.9H635.9V367.9H636.9V368.0H637.9V368.0H638.9V368.0H640.0V368.0H641.0V368.0H642.0V368.0H643.0V368.0H644.0V368.0H645.0V368.1H646.1V368.1H647.1V368.1H648.1V368.1H649.1V368.1H650.2V368.1H651.3V368.1V371.4H652.3V371.4H653.3V371.4H654.3V371.4H655.4V371.4H656.4V371.5H657.4V371.5H658.4V371.5H659.4V371.5H660.4V371.5H661.5V371.5H662.5V371.5H663.5V371.5H664.5V371.6H665.5V371.6H666.5V371.6H667.6V371.6H668.6V371.6H669.6V371.6H670.6V371.6H671.6V371.6H672.6V371.7H673.7V371.7H674.7V371.7H675.7V371.7H676.7V371.7" fill="none" stroke="#5c5c5c" stroke-width="2.0" stroke-linejoin="miter" stroke-linecap="butt"/>
<path d="M113.6 376.0H114.6V376.0H115.6V376.0H116.5V376.0H117.5V376.0H118.5V376.0H119.5V376.0H120.5V376.0H121.4V376.0H122.4V376.0H123.4V376.0H124.4V376.0H125.4V376.0H126.4V376.0H127.3V376.0H128.3V376.0H129.3V376.0H130.3V376.0H131.3V376.0H132.2V376.0H133.2V376.0H134.2V376.0V467.4H135.2V467.4H136.2V467.4H137.1V467.4H138.1V467.4H139.1V467.4H140.1V467.4H141.0V467.4H142.0V467.4H143.0V467.4V505.5H144.0V505.5H145.0V505.5H146.0V505.5H147.0V505.5H148.0V505.5H149.0V505.5H150.0V505.5H151.0V505.5V534.8H151.9V534.8H152.9V534.8H153.8V534.8H154.8V534.8H155.7V534.8H156.7V534.8H157.6V534.8V443.3H158.3V443.5H159.1V466.7H160.1V465.7H161.1V461.7H162.2V461.7H163.2V461.7H164.2V487.2H165.2V487.5H166.1V487.6H167.1V451.3H168.2V455.6H169.3V455.6H170.4V455.1H171.5V470.4H172.6V474.1H173.7V471.2H174.8V477.9H175.9V459.4H177.0V466.7H178.1V467.4H179.2V460.6H180.3V472.6H181.1V473.5H181.8V452.8H182.9V453.9H184.0V452.9H185.1V451.8H186.2V466.7H187.3V467.1H188.4V467.0H189.5V467.0H190.6V460.1H191.6V453.4H192.5V453.4H193.5V474.0H194.2V473.7H195.0V456.4H196.1V456.8H197.2V461.0H198.3V461.0H199.4V451.3H200.5V456.0H201.6V446.7H202.7V450.7H203.8V475.5H204.8V480.1H205.9V480.1H206.9V480.1H208.0V472.5H209.0V472.5H210.1V472.5H211.1V456.4H212.1V456.1H213.0V456.8H214.0V467.4H215.1V466.9H216.1V467.3H217.2V466.8H218.2V466.9H219.3V468.3H220.3V468.0H221.4V457.9H222.4V453.5H223.3V453.5H224.3V458.8H225.3V457.9H226.2V463.3H227.2V454.2H228.2V459.5H229.1V453.7H230.1V463.8H231.1V463.8H232.1V463.4H233.1V464.5H234.0V458.3H235.0V458.3H236.0V460.8H237.0V456.3H237.9V456.3H238.9V471.1H239.9V466.7H240.9V470.6H241.9V475.7H242.8V474.8H243.8V474.8H244.8V475.5H245.9V473.1H247.0V473.1H248.1V475.4H249.2V463.8H250.2V464.4H251.1V463.9H252.1V468.3H253.1V468.3H254.0V468.9H255.0V469.6H256.0V470.2H257.0V470.1H257.9V469.0H258.9V469.3H259.9V469.9H260.9V466.7H262.0V466.9H263.1V462.6H264.2V462.6H265.3V479.9H266.3V475.9H267.3V479.3H268.2V479.3H269.2V484.0H270.2V484.0H271.2V469.6H272.2V470.0H273.3V470.2H274.3V468.9H275.4V469.5H276.4V466.7H277.5V466.7H278.5V466.7H279.6V466.1H280.7V463.9H281.8V463.9H282.9V478.4H283.9V478.1H284.9V477.9H285.8V478.2H286.8V478.3H287.8V478.7H288.8V478.8H289.7V475.6H290.7V475.6H291.7V469.6H292.7V466.9H293.8V469.5H294.8V472.7H295.9V472.7H296.9V469.9H298.0V467.1H299.0V474.0H300.1V471.5H301.2V477.5H302.2V477.5H303.3V470.5H304.4V470.5H305.5V471.9H306.4V472.0H307.4V468.5H308.3V468.5H309.2V473.5H310.2V473.5H311.1V478.8H312.1V480.4H313.2V478.9H314.2V476.4H315.2V476.4H316.2V476.4H317.2V479.2H318.3V475.3H319.3V481.5H320.3V481.5H321.4V478.0H322.4V478.0H323.5V482.0H324.5V481.9H325.5V478.3H326.6V481.0H327.6V477.4H328.6V477.1H329.6V473.9H330.6V473.9H331.6V477.5H332.6V475.1H333.6V475.1H334.6V481.5H335.5V479.2H336.4V481.4H337.3V488.5H338.3V488.3H339.3V487.7H340.3V487.3H341.3V486.9H342.3V486.6H343.4V486.0H344.4V485.8H345.4V485.6H346.4V485.3H347.4V484.6H348.4V484.3H349.4V484.6H350.3V483.9H351.3V485.9H352.2V484.8H353.2V481.7H354.2V484.4H355.1V484.4H356.1V484.1H357.0V484.6H358.0V488.5H359.0V488.4H360.1V488.3H361.1V485.8H362.1V485.8H363.2V490.8H364.2V490.8H365.3V488.0H366.3V487.1H367.4V484.3H368.4V484.3H369.4V484.3H370.5V481.5H371.5V481.0H372.6V481.2H373.6V480.5H374.6V482.5H375.7V482.1H376.7V477.6H377.7V477.3H378.8V478.9H379.8V478.2H380.8V476.6H381.9V476.2H382.9V477.4H383.9V476.4H384.9V480.6H385.9V481.1H386.9V479.0H387.9V480.0H389.0V477.9H390.0V478.3H391.0V481.3H392.0V481.4H393.0V482.1H394.0V482.2H395.0V484.8H396.0V484.4H397.0V484.1H398.0V478.5H399.0V480.0H400.0V479.6H401.0V478.0H402.0V479.0H403.0V481.2H404.0V480.8H405.0V478.1H406.0V478.4H407.0V478.3H408.0V477.8H409.0V477.9H410.0V477.4H411.0V477.7H411.9V477.5H412.9V477.5H413.9V477.0H414.9V479.6H415.9V479.5H416.9V479.4H417.9V476.6H418.9V476.7H419.9V476.9H421.0V476.8H422.0V474.2H423.0V474.2H424.1V478.3H425.1V478.3H426.2V478.7H427.2V475.3H428.2V477.2H429.2V477.1H430.2V473.7H431.2V473.7H432.2V475.0H433.2V472.5H434.2V472.5H435.2V477.2H436.2V474.5H437.2V475.0H438.2V474.6H439.2V473.1H440.2V473.7H441.2V473.8H442.1V473.3H443.1V473.4H444.1V473.4H445.1V472.9H446.1V472.9H447.1V472.7H448.1V470.3H449.0V470.1H450.0V471.5H451.0V471.7H452.0V471.2H453.0V471.0H454.0V470.9H455.0V470.7H456.0V470.3H457.0V471.3H458.1V471.1H459.1V467.7H460.1V467.6H461.1V467.3H462.1V467.1H463.1V469.1H464.1V468.8H465.1V470.7H466.1V470.7H467.0V469.3H468.0V468.9H469.0V469.1H470.0V465.0H471.1V463.2H472.1V463.2H473.1V466.4H474.2V458.7H475.2V460.0H476.3V457.0H477.3V457.2H478.3V458.3H479.4V458.6H480.4V458.6H481.4V456.6H482.5V456.6H483.5V456.5H484.5V458.4H485.6V459.0H486.6V458.0H487.7V458.9H488.9V457.9H490.0V455.3H491.0V457.2H492.0V457.2H493.0V457.2H493.9V455.5H494.9V455.5H495.9V455.3H496.9V457.4H497.9V457.2H499.0V458.8H500.0V458.8H501.0V458.8H502.1V457.7H503.1V457.5H504.2V457.2H505.2V454.6H506.2V454.6H507.3V453.3H508.3V453.3H509.4V449.8H510.4V451.1H511.4V451.1H512.5V451.1H513.5V449.8H514.5V449.6H515.5V450.0H516.6V449.9H517.6V445.0H518.6V444.0H519.6V443.9H520.6V444.8H521.7V446.3H522.7V446.2H523.7V442.7H524.7V442.6H525.7V443.0H526.7V442.9H527.7V444.1H528.7V444.0H529.8V443.7H530.8V443.8H531.8V443.7H532.8V443.6H533.7V443.4H534.7V443.6H535.6V439.4H536.6V439.6H537.5V439.5H538.5V439.5H539.5V439.2H540.5V440.5H541.4V440.5H542.4V438.0H543.4V439.5H544.3V440.5H545.3V438.0H546.3V439.0H547.4V437.8H548.4V436.6H549.5V436.6H550.5V437.2H551.5V437.2H552.6V438.1H553.6V433.2H554.6V431.8H555.6V431.7H556.6V431.6H557.6V432.8H558.6V432.7H559.6V433.7H560.6V433.7H561.6V432.7H562.6V431.6H563.6V431.6H564.6V432.5H565.5V431.3H566.5V431.3H567.4V429.1H568.4V427.9H569.4V429.0H570.4V428.6H571.3V428.9H572.3V428.5H573.3V428.6H574.3V428.4H575.3V428.2H576.3V429.2H577.3V429.1H578.2V428.2H579.2V428.0H580.2V427.6H581.2V427.7H582.1V426.9H583.1V426.9H584.0V427.6H584.9V428.6H585.9V428.6H586.8V423.5H587.8V422.8H588.7V423.4H589.7V422.5H590.6V422.5H591.6V424.7H592.6V424.7H593.5V424.5H594.5V423.7H595.4V423.6H596.4V419.4H597.4V418.4H598.5V418.4H599.5V419.3H600.5V420.0H601.6V418.6H602.6V418.6H603.7V419.5H604.7V422.8H605.7V422.7H606.8V422.8H607.8V422.4H608.9V422.7H609.9V422.9H610.9V422.8H612.0V422.8H613.0V414.6H614.0V414.6H614.9V414.6H615.9V414.6H616.9V414.7H617.9V414.2H618.8V414.2H619.8V414.2H620.8V415.2H621.7V415.2H622.7V417.3H623.7V417.0H624.8V417.0H625.8V417.3H626.9V417.3H627.9V417.3H628.9V417.3H630.0V417.3H631.0V410.4H632.0V410.1H633.0V409.9H634.0V409.6H635.1V409.3H636.1V409.1H637.1V408.8H638.1V408.5H639.1V408.2H640.1V407.9H641.1V407.7H642.1V407.4H643.2V407.1H644.2V406.8H645.2V406.6H646.2V406.3H647.2V406.3H648.2V406.3H649.3V406.3H650.3V410.4H651.2V410.4H652.2V410.4H653.1V410.4H654.1V410.4H655.0V410.4H656.0V410.4H656.9V410.4H657.9V405.6H658.9V405.2H659.9V404.9H660.9V404.6H661.8V404.2H662.8V403.9H663.8V403.5H664.8V403.1H665.8V402.8H666.8V402.4H667.7V402.1H668.7V401.8H669.7V401.4H670.7V401.4H671.7V401.4H672.7V401.4H673.6V401.4H674.6V401.4H675.6V401.4H676.6V401.4" fill="none" stroke="#5c5c5c" stroke-width="2.0" stroke-linejoin="miter" stroke-linecap="butt"/>
<path d="M113.6 376.0H116.0V376.0H118.3V376.0H120.7V376.0H123.0V376.0H125.4V376.0V284.0H127.7V284.0V217.3H130.8V217.3H133.9V217.3V282.0H136.0V282.0V309.0H138.5V309.0V263.0H141.2V263.0H144.0V263.0V243.0H145.5V243.0V202.0H146.2V202.0V175.0H148.6V175.0H150.9V175.0V204.0H154.0V204.0V192.0H155.9V192.0H157.8V192.0V156.0H160.0V178.0H162.0V170.0H164.0V181.0H166.3V172.0H167.8V149.0H169.4V145.0H172.0V151.0H174.0V143.0H176.3V150.0V109.0H178.0V116.0H180.0V109.0H182.5V113.0V93.0H186.0V90.0H188.1V86.9H190.2V86.0H193.0V90.0H196.4V88.5H199.0V95.0H202.5V105.0H204.0V96.0H206.3V96.9H208.7V97.0H211.0V96.3H212.0V100.0H214.9V119.0H217.0V108.0H219.0V107.5H221.0V104.0H223.0V114.0H225.1V116.2H227.2V121.0H230.3V125.4H233.4V132.0H236.0V142.0H238.0V132.0H241.1V135.1H244.2V141.0H247.2V153.0H250.3V157.5H253.4V164.0H256.5V167.8H259.6V170.0H261.9V174.2H264.2V181.0H267.3V186.6H270.4V192.0H272.7V197.5H275.0V205.0H277.0V212.0H280.0V205.0H282.3V206.0H284.6V208.3H286.2V218.2H289.6V221.6H291.2V229.0H293.3V229.2H295.4V229.9H297.8V237.3H299.8V246.5H302.2V252.3H304.6V256.1H307.0V259.6H310.5V263.2H311.7V268.0H315.3V264.4H317.7V271.6H321.3V276.4H324.9V288.3H328.5V291.9H332.0V299.1H335.0V301.2H338.0V302.7H340.4V308.6H342.8V312.5H345.2V319.4H348.8V324.2H351.1V328.3H353.5V333.7H357.1V343.3H360.7V348.1H364.3V356.4H367.9V363.6H371.5V370.2H374.4V371.2H377.4V374.3H379.8V366.0H382.2V365.3H384.6V362.4H387.0V362.7H389.4V361.2H391.8V348.1H393.3V346.5H396.4V354.2H399.0V355.6H401.5V356.2H404.1V355.7H407.2V361.1H410.3V365.0H413.4V369.6H415.7V362.5H418.0V352.7H420.3V358.2H422.6V361.9H425.7V365.8H428.8V371.2H431.9V374.5H435.0V375.8H438.0V375.8H440.3V352.7H442.2V352.7H444.2V352.7H446.5V357.3H448.8V360.4H451.1V357.5H453.5V354.2H455.8V349.4H458.1V345.0H461.2V340.3H463.5V339.1H465.8V338.8H468.9V331.1H471.9V331.6H475.0V332.6H478.1V338.8H480.5V335.9H482.8V334.2H485.8V333.6H488.7V335.2H491.6V336.6H493.8V335.4H496.0V332.2H498.4V332.1H500.8V331.7H503.2V329.3H506.1V331.3H509.0V332.2H511.2V334.6H513.4V336.6H516.3V338.3H519.2V337.4H522.1V339.5H525.0V335.2H526.4V334.4" fill="none" stroke="#000" stroke-width="1.8" stroke-linejoin="miter" stroke-linecap="butt"/>
<path d="M865.4 362.3H866.4V362.3H867.3V362.3H868.3V362.3H869.3V362.3H870.2V362.3H871.2V362.3H872.2V362.3H873.2V362.3H874.1V362.3H875.1V362.3H876.1V362.3H877.0V362.3H878.0V362.3V256.9H879.0V256.9H879.9V256.9H880.9V256.9H881.8V256.9H882.8V256.9V212.7H883.8V212.7H884.9V212.7H886.0V212.7H887.0V212.7V286.0H888.0V286.0H888.9V286.0H889.9V286.0H890.8V286.0H891.8V286.0V256.9H892.8V256.9H893.9V256.9H895.0V256.9H896.0V256.9H897.0V256.9H898.1V256.9V232.0H899.5V275.6H900.4V263.9H901.3V270.5H902.2V252.7H903.2V253.0H904.3V258.1H905.4V263.0H906.4V286.0H907.3V276.2H908.3V279.5H909.2V266.6H910.2V262.8H911.2V265.5H912.3V269.6H913.3V247.2H914.7V275.6H915.8V282.2H916.8V284.3H917.9V265.8H918.9V239.5H920.0V234.3H921.0V264.5H922.1V265.5H923.3V270.1H924.4V248.6H925.5V257.0H926.5V240.0H927.5V240.8H928.6V240.4H929.7V242.5H930.7V240.2H931.6V241.7H932.6V243.1H933.5V261.0H934.5V267.0H935.5V233.3H936.4V223.1H937.4V229.5H938.3V236.9H939.2V242.4H940.2V226.3H941.1V238.9H942.1V236.6H943.2V238.4H944.2V242.5H945.3V245.8H946.3V251.2H947.3V234.9H948.4V238.8H949.4V235.4H950.3V231.3H951.3V233.8H952.2V252.0H953.1V253.1H954.1V255.5H955.0V228.4H956.0V235.5H957.0V237.8H958.1V220.6H959.1V247.9H960.0V243.0H961.0V245.0H961.9V248.6H962.8V249.7H963.8V253.2H964.7V229.1H965.7V237.3H966.8V222.0H967.8V227.2H968.8V243.0H969.7V244.8H970.7V250.3H971.6V232.8H972.5V236.6H973.5V239.2H974.4V225.0H975.4V225.3H976.4V228.0H977.4V232.5H978.3V236.4H979.3V238.8H980.3V226.5H981.3V231.9H982.7V221.5H983.6V219.5H984.6V221.3H985.5V224.3H986.4V226.8H987.4V215.9H988.3V237.5H989.7V219.4H990.7V216.5H991.6V218.5H992.5V221.8H993.5V223.8H994.5V210.0H995.4V210.8H996.3V213.4H997.3V215.3H998.2V215.2H999.0V217.6H999.9V220.7H1000.8V229.1H1001.7V235.7H1002.6V224.0H1003.5V220.8H1004.5V218.4H1005.6V221.2H1006.6V223.2H1007.7V225.6H1008.8V228.6H1009.8V216.9H1010.9V221.4H1011.9V226.4H1013.0V224.8H1014.0V228.9H1015.1V231.0H1016.1V217.0H1017.2V218.2H1018.2V218.4H1019.3V218.1H1020.3V217.7H1021.3V217.5H1022.4V217.6H1023.4V218.1H1024.4V207.9H1025.4V208.1H1026.5V209.6H1027.5V209.1H1028.5V208.8H1029.5V210.3H1030.6V212.0H1031.6V211.9H1032.6V202.2H1033.7V204.3H1034.7V204.5H1035.7V206.0H1036.8V207.1H1037.8V205.7H1038.8V208.8H1039.8V209.8H1040.9V211.8H1041.9V204.0H1042.9V206.6H1043.9V208.1H1045.0V211.0H1046.0V212.7H1047.0V211.9H1048.0V213.8H1049.0V215.5H1050.0V215.0H1051.0V211.6H1052.1V213.5H1053.1V215.3H1054.1V218.4H1055.2V219.8H1056.2V222.7H1057.2V213.6H1058.3V217.7H1059.3V219.6H1060.3V219.9H1061.3V223.3H1062.3V212.4H1063.4V214.0H1064.4V213.9H1065.4V215.0H1066.4V214.5H1067.3V214.6H1068.3V215.7H1069.2V215.9H1070.2V207.2H1071.2V209.4H1072.1V211.3H1073.1V208.8H1074.2V212.6H1075.3V204.7H1076.3V205.9H1077.4V206.5H1078.5V207.2H1079.5V207.2H1080.5V208.5H1081.5V210.3H1082.5V211.7H1083.5V213.7H1084.6V207.0H1085.6V208.0H1086.6V209.3H1087.6V210.5H1088.6V211.9H1089.6V212.9H1090.5V213.9H1091.5V215.7H1092.5V216.7H1093.5V210.7H1094.4V212.1H1095.4V213.8H1096.4V215.2H1097.4V216.9H1098.3V219.0H1099.3V216.5H1100.3V220.2H1101.4V215.0H1102.4V217.0H1103.4V219.6H1104.5V221.8H1105.5V215.9H1106.5V217.7H1107.6V219.4H1108.6V221.1H1109.6V221.4H1110.5V223.0H1111.5V223.5H1112.4V225.2H1113.4V219.1H1114.4V220.0H1115.3V221.4H1116.3V222.7H1117.2V222.8H1118.1V223.8H1119.1V224.9H1120.0V225.8H1120.9V221.1H1121.8V218.8H1122.8V219.4H1123.7V220.7H1124.7V221.9H1125.6V230.4H1126.6V232.5H1127.6V233.8H1128.5V228.7H1129.5V231.1H1130.5V232.8H1131.5V234.1H1132.5V230.1H1133.5V231.9H1134.4V233.1H1135.4V234.3H1136.4V233.5H1137.4V235.6H1138.3V230.5H1139.3V232.5H1140.3V234.7H1141.3V236.6H1142.2V238.2H1143.2V232.7H1144.2V235.1H1145.2V236.5H1146.1V238.9H1147.1V236.5H1148.0V234.3H1149.0V235.5H1149.9V236.2H1150.9V237.6H1151.8V242.7H1152.8V245.6H1153.8V241.0H1154.7V242.6H1155.7V244.4H1156.7V246.0H1157.7V247.7H1158.7V249.9H1159.7V250.9H1160.6V247.1H1161.6V248.2H1162.6V250.4H1163.6V250.5H1164.6V251.7H1165.5V252.5H1166.5V253.5H1167.5V250.8H1168.5V251.2H1169.5V252.4H1170.5V253.1H1171.4V254.2H1172.4V255.5H1173.4V255.0H1174.4V257.2H1175.4V257.9H1176.5V254.3H1177.5V256.6H1178.5V258.2H1179.5V258.1H1180.5V260.8H1181.6V256.2H1182.6V257.0H1183.6V258.8H1184.7V259.9H1185.7V261.9H1186.7V263.2H1187.8V264.6H1188.8V262.7H1189.8V265.6H1190.9V260.3H1191.9V261.9H1193.0V263.5H1194.0V266.3H1195.1V269.6H1196.1V266.0H1197.2V267.7H1198.3V269.5H1199.3V270.7H1200.4V271.5H1201.4V273.7H1202.4V275.3H1203.4V272.2H1204.3V274.1H1205.3V276.3H1206.3V278.3H1207.3V278.4H1208.3V281.0H1209.2V277.8H1210.2V278.8H1211.1V279.8H1212.1V281.1H1213.0V282.4H1214.0V283.6H1214.9V284.7H1215.9V283.6H1216.9V281.9H1217.8V283.7H1218.8V286.1H1219.8V287.7H1220.7V289.7H1221.7V286.0H1222.7V287.7H1223.6V289.0H1224.6V290.5H1225.6V291.4H1226.7V292.9H1227.7V294.5H1228.7V290.3H1229.8V291.5H1230.8V292.6H1231.8V294.3H1232.8V295.7H1233.9V296.9H1234.9V295.7H1235.9V298.8H1236.9V295.3H1237.9V296.6H1238.9V297.8H1239.9V298.7H1241.0V300.2H1242.0V301.6H1243.0V298.9H1244.0V300.0H1245.0V300.7H1246.0V302.1H1247.0V302.6H1248.0V303.5H1248.9V304.6H1249.9V305.6H1250.9V306.8H1251.8V304.6H1252.8V306.2H1253.8V307.5H1254.7V308.9H1255.7V309.5H1256.7V309.5H1257.7V309.5H1258.7V309.5H1259.7V309.5H1260.7V309.5H1261.7V309.5H1262.6V309.5H1263.6V309.5H1264.6V309.5H1265.6V309.5H1266.6V309.5H1267.6V309.5H1268.6V309.5V314.7H1269.6V314.7H1270.7V314.7H1271.7V314.7H1272.8V314.7H1273.8V314.7H1274.8V314.7H1275.9V314.7H1276.9V314.7H1278.0V314.7H1279.0V314.7V319.8H1280.0V319.8H1280.9V319.8H1281.9V319.8H1282.8V319.8H1283.8V319.8H1284.7V319.8H1285.7V319.8H1286.6V319.8H1287.6V319.8V325.5H1288.6V325.5H1289.6V325.6H1290.7V325.6H1291.7V325.6H1292.7V325.7H1293.7V325.7H1294.7V325.8H1295.7V325.8H1296.8V325.8H1297.8V325.9H1298.8V325.9V331.1H1299.8V331.1H1300.8V331.1H1301.8V331.1H1302.8V331.1H1303.8V331.1H1304.8V331.1H1305.9V331.1H1306.9V331.1H1307.9V331.1H1308.9V331.1H1309.9V331.1H1310.9V331.1V336.8H1311.9V336.8H1312.9V336.8H1313.9V336.8H1314.9V336.8H1315.9V336.8H1316.9V336.8H1317.8V336.8H1318.8V336.8H1319.8V336.8H1320.8V336.8H1321.8V336.8H1322.8V336.8H1323.8V336.8H1324.8V336.8V341.4H1325.8V341.4H1326.8V341.4H1327.8V341.4H1328.8V341.4H1329.8V341.4H1330.8V341.4H1331.8V341.4H1332.8V341.4H1333.8V341.4H1334.8V341.4H1335.8V341.4H1336.8V341.4H1337.8V341.4H1338.8V341.4H1339.8V341.4H1340.8V341.4H1341.8V341.4H1342.8V341.4H1343.8V341.4V346.6H1344.8V346.6H1345.8V346.6H1346.8V346.6H1347.7V346.6H1348.7V346.6H1349.7V346.6H1350.7V346.6H1351.7V346.6H1352.7V346.6H1353.7V346.6H1354.6V346.6H1355.6V346.6H1356.6V346.6H1357.6V346.6H1358.6V346.6H1359.6V346.6H1360.6V346.6H1361.5V346.6H1362.5V346.6H1363.5V346.6H1364.5V346.6V351.8H1365.5V351.8H1366.5V351.8H1367.5V351.8H1368.4V351.8H1369.4V351.8H1370.4V351.8H1371.4V351.8H1372.4V351.8H1373.4V351.8H1374.4V351.8H1375.3V351.8H1376.3V351.8H1377.3V351.8H1378.3V351.8H1379.3V351.8H1380.3V351.8H1381.3V351.8H1382.2V351.8H1383.2V351.8H1384.2V351.8H1385.2V351.8H1386.2V351.8H1387.2V351.8H1388.2V351.8H1389.1V351.8H1390.1V351.8H1391.1V351.8H1392.1V351.8V357.0H1393.1V357.0H1394.1V357.0H1395.1V357.0H1396.1V357.0H1397.1V357.0H1398.1V357.0H1399.1V357.0H1400.1V357.0H1401.1V357.0H1402.1V357.0H1403.1V357.0H1404.1V357.0H1405.1V357.0H1406.1V357.0H1407.1V357.0H1408.1V357.0H1409.1V357.0H1410.1V357.0H1411.2V357.0H1412.2V357.0H1413.2V357.0H1414.2V357.0H1415.2V357.0H1416.2V357.0H1417.2V357.0H1418.2V357.0H1419.2V357.0H1420.2V357.0H1421.2V357.0H1422.2V357.0H1423.2V357.0H1424.2V357.0H1425.2V357.0H1426.2V357.0H1427.2V357.0H1428.2V357.0H1429.2V357.0H1430.2V357.0" fill="none" stroke="#5c5c5c" stroke-width="2.0" stroke-linejoin="miter" stroke-linecap="butt"/>
<path d="M865.4 362.3H866.4V362.3H867.4V362.3H868.4V362.3H869.4V362.3H870.4V362.3H871.4V362.3H872.4V362.3H873.4V362.3H874.4V362.3H875.4V362.3H876.4V362.3H877.4V362.3H878.4V362.3H879.4V362.3H880.4V362.3H881.4V362.3H882.4V362.3H883.4V362.3H884.4V362.3H885.4V362.3H886.4V362.3H887.4V362.3V467.9H888.4V467.9H889.3V467.9H890.3V467.9H891.3V467.9H892.2V467.9H893.2V467.9H894.2V467.9H895.1V467.9H896.1V467.9H897.1V467.9H898.0V467.9H899.0V467.9V511.9H900.0V511.9H901.0V511.9H902.0V511.9H902.9V511.9H903.9V511.9H904.9V511.9H905.9V511.9V544.3H906.9V544.3H908.0V544.3H909.0V544.3H910.0V544.3H911.0V544.3H912.0V544.3H913.1V544.3H914.1V544.3V439.4H915.2V467.9H916.3V466.9H917.4V472.5H918.4V468.9H919.5V466.8H920.6V467.9H921.4V492.6H922.5V483.9H923.7V448.7H924.6V440.1H925.5V449.2H926.5V449.2H927.4V442.1H928.3V448.7V471.8H929.3V465.3H930.4V471.0H931.4V437.9H932.1V445.1H932.9V458.7H934.0V459.0H935.1V463.7H936.1V463.7H937.2V451.7H938.3V449.4H939.3V442.5H940.2V442.5H941.2V452.9H942.2V467.9H943.2V471.4H944.3V467.9H945.3V443.3H946.3V443.7H947.4V442.8H948.4V458.7H949.3V458.9H950.2V452.8H951.2V452.8H952.1V452.8H953.0V454.1H954.0V455.1H955.1V453.1H956.1V470.3H957.0V469.3H957.9V469.2H958.9V469.6H959.8V475.7H960.7V461.8H961.7V467.1H962.6V457.0H963.6V457.0H964.5V462.1H965.5V460.8H966.5V455.2H967.4V468.8H968.4V454.1V472.6H969.4V479.5H970.5V479.5H971.5V466.3H972.5V466.3H973.6V473.7H974.6V449.4H975.5V449.3H976.4V449.7H977.4V450.0H978.3V449.6H979.2V447.9V462.5H980.2V461.4H981.3V462.8H982.3V468.6H983.3V468.6H984.4V468.6H985.4V457.1H986.4V456.4H987.4V451.2H988.4V469.5H989.3V463.7H990.3V469.5H991.2V475.6H992.2V475.6H993.1V461.8H994.1V467.8H995.1V461.6H996.2V466.9H997.2V466.9H998.2V455.4H999.2V460.2V472.6H1000.2V467.2H1001.2V473.1H1002.1V472.1H1003.1V475.6H1004.1V475.6H1005.0V476.7H1006.0V472.8H1007.0V477.2H1008.0V474.4H1009.0V472.6H1010.0V472.6H1011.1V477.1H1012.1V476.7H1013.1V463.3H1014.1V463.7H1015.2V463.5H1016.2V472.6H1017.1V466.2H1018.0V466.2H1019.0V468.9H1019.9V468.9H1020.8V478.7H1021.8V484.6H1022.9V484.6H1023.9V484.6H1024.9V479.3H1026.0V478.1H1027.0V466.4H1028.0V467.1H1029.1V466.2H1030.1V465.8H1031.1V462.4H1032.2V462.4H1033.2V461.8H1034.2V467.5H1035.2V467.5H1036.2V480.3H1037.2V481.0H1038.3V480.4H1039.3V479.4H1040.3V480.6H1041.4V480.9H1042.4V467.9H1043.4V464.8H1044.5V464.8H1045.5V483.4H1046.6V484.1H1047.8V483.6H1048.9V483.1H1050.0V477.4H1050.9V478.2H1051.9V478.1H1052.8V471.9H1053.8V472.2H1054.8V475.1H1055.8V466.4H1056.7V466.4H1057.7V466.6H1058.7V466.6H1059.7V480.2H1060.7V483.9H1061.8V483.9H1062.8V479.9H1063.8V482.9H1064.8V483.5H1065.9V482.7H1067.0V486.9H1068.0V489.8H1068.9V493.8H1069.8V494.6H1070.8V494.6H1071.7V489.4H1072.6V485.7H1073.5V481.5H1074.4V477.5H1075.3V481.5H1076.2V484.9H1077.2V484.9H1078.1V484.9H1079.0V482.9H1079.9V483.0H1080.9V482.8H1081.8V482.8H1082.7V477.7H1083.7V487.6H1084.6V476.0H1085.6V480.6H1086.7V476.5H1087.7V471.5H1088.7V480.2H1089.7V475.8H1090.8V479.9H1091.8V485.2H1092.8V485.7H1093.8V490.6H1094.9V485.6H1096.0V486.1H1097.0V480.2H1097.9V480.1H1098.8V480.1H1099.8V479.8H1100.7V477.4H1101.6V477.4H1102.5V477.4H1103.5V477.6H1104.6V480.4H1105.7V480.4H1106.7V485.7H1107.6V485.2H1108.5V485.5H1109.5V486.4H1110.4V482.3H1111.3V489.7H1112.2V492.6H1113.6V481.5H1114.5V485.4H1115.4V480.9H1116.3V481.8H1117.3V476.7H1118.2V476.7H1119.1V485.7H1120.1V482.4H1121.2V482.4H1122.2V485.4H1123.2V489.6H1124.3V489.6H1125.3V485.8H1126.4V488.5H1127.4V488.5H1128.3V491.2H1129.2V488.7H1130.2V488.3H1131.1V484.0H1132.0V484.0H1132.9V480.2H1133.9V475.8H1134.9V480.0H1135.9V480.5H1136.8V477.3H1137.8V480.4H1138.8V477.5H1139.8V479.5H1140.8V476.9H1141.9V476.9H1143.0V480.0H1144.0V484.3H1145.0V484.3H1146.0V480.2H1147.0V480.2H1147.9V480.2H1148.9V484.2H1149.9V483.7H1150.9V482.9H1151.8V482.5H1152.8V486.9H1153.7V476.0H1154.7V479.9H1155.7V475.5H1156.7V475.6H1157.6V475.6H1158.6V471.8H1159.6V471.8H1160.6V478.8H1161.5V475.2H1162.4V475.2H1163.3V482.2H1164.3V482.2H1165.2V474.8H1166.1V481.5H1167.0V477.5H1168.0V483.3H1168.9V476.0H1169.9V477.8H1171.0V475.8H1172.0V476.4H1173.1V476.0H1174.1V476.0H1175.1V472.7H1176.2V476.4H1177.2V476.0H1178.1V477.8H1179.0V477.8H1180.0V476.5H1180.9V472.3H1181.8V472.3H1182.7V475.3H1183.7V471.6H1184.7V474.6H1185.7V474.5H1186.7V471.1H1187.7V471.0H1188.7V471.7H1189.7V471.5H1190.7V474.3H1191.7V475.9H1192.7V475.8H1193.7V473.9H1194.6V477.4H1195.6V477.4H1196.5V477.4H1197.4V477.5H1198.3V477.2H1199.2V474.0H1200.2V477.7H1201.1V477.4H1202.0V473.3H1203.0V472.9H1204.0V473.0H1205.0V475.0H1205.9V473.2H1206.9V473.3H1207.9V473.8H1208.9V473.3H1209.9V470.0H1210.9V473.4H1211.9V476.3H1212.9V476.3H1213.9V476.3H1214.9V473.2H1215.9V470.5H1216.9V470.5H1217.9V470.9H1218.9V470.4H1219.8V468.9H1220.8V468.9H1221.8V467.6H1222.8V469.1H1223.8V466.2H1224.8V466.2H1225.9V471.1H1226.9V463.6H1227.8V463.4H1228.7V463.5H1229.7V463.4H1230.6V461.8H1231.5V461.8H1232.4V458.0H1233.4V458.2H1234.5V458.5H1235.5V457.8H1236.6V457.6H1237.6V458.3H1238.6V458.0H1239.7V457.6H1240.7V454.6H1241.7V454.4H1242.7V454.5H1243.6V454.4H1244.6V454.2H1245.6V454.3H1246.6V453.8H1247.5V453.5H1248.5V453.4H1249.5V453.5H1250.5V453.4H1251.4V452.9H1252.4V452.9H1253.3V455.1H1254.3V453.3H1255.2V452.5H1256.1V451.5H1257.1V451.5H1258.0V452.9H1259.0V451.6H1260.0V454.2H1261.0V454.2H1261.9V451.8H1262.9V451.8H1263.9V451.8H1264.9V447.4H1265.9V447.6H1266.8V447.1H1267.8V447.1H1268.8V449.5H1269.8V449.5H1270.7V446.2H1271.7V447.6H1272.7V447.6H1273.6V449.0H1274.6V441.9H1275.6V443.1H1276.6V440.3H1277.6V440.0H1278.6V441.1H1279.6V440.5H1280.6V441.6H1281.6V441.4H1282.6V440.7H1283.6V440.5H1284.6V439.4H1285.6V439.1H1286.5V439.3H1287.4V438.9H1288.3V439.1H1289.3V439.1H1290.2V437.7H1291.1V435.0H1292.1V433.7H1293.1V433.7H1294.1V434.9H1295.0V434.3H1296.0V434.3H1297.0V434.0H1298.0V430.8H1298.9V429.9H1299.9V431.0H1300.8V430.8H1301.7V430.8H1302.7V430.7H1303.6V428.0H1304.6V427.5H1305.6V427.5H1306.6V427.5H1307.7V428.6H1308.7V428.6H1309.7V428.6H1310.7V427.9H1311.7V428.1H1312.7V428.0H1313.7V428.0H1314.7V427.5H1315.8V427.5H1316.8V428.1H1317.8V428.0H1318.8V428.0H1320.2V421.1H1321.2V421.1H1322.3V421.1H1323.3V421.1H1324.3V421.1H1325.4V421.1H1326.4V421.1H1327.4V421.1H1328.5V421.1H1329.5V421.1H1330.5V421.1H1331.6V421.1H1332.6V421.1H1334.0V416.3H1335.0V416.3H1336.0V416.2H1336.9V416.2H1337.9V416.1H1338.9V416.1H1339.9V416.1H1340.8V416.0H1341.8V416.0H1342.8V415.9H1343.8V415.9H1344.7V415.8H1345.7V415.8H1346.7V415.8H1347.7V415.7H1348.6V415.7H1349.6V415.6H1350.6V415.6H1352.0V410.1H1353.0V410.1H1353.9V410.1H1354.9V410.1H1355.8V410.1H1356.8V410.1H1357.8V410.1H1358.7V410.1H1359.7V410.1H1360.6V410.1H1361.6V409.4H1362.5V409.4H1363.5V409.4H1364.4V410.8H1365.4V410.8H1366.5V410.8H1367.5V410.8H1368.6V410.8H1369.6V410.8H1370.6V410.8H1371.7V410.8H1372.7V410.8H1373.4V404.6H1374.4V404.6H1375.4V404.5H1376.4V404.5H1377.4V404.4H1378.4V404.4H1379.4V404.3H1380.4V404.3H1381.3V404.2H1382.3V404.2H1383.3V404.2H1384.3V404.1H1385.3V404.1H1386.3V404.0H1387.3V404.0H1388.3V403.9H1389.3V403.9H1390.2V403.9H1391.1V403.9H1392.0V405.2H1393.0V405.2H1394.0V405.2H1395.0V405.2H1396.0V405.2H1397.0V405.2H1398.0V405.2H1399.0V405.2H1399.9V405.2H1400.9V405.2H1401.9V405.2H1402.9V405.2H1403.9V405.2H1404.9V405.2H1405.9V405.2H1406.5V399.0H1407.5V399.0H1408.6V399.0H1409.7V399.0H1410.7V399.0H1411.8V399.0H1412.8V394.2H1413.8V394.2H1414.8V394.2H1415.8V394.2H1416.8V394.2H1417.8V394.2H1418.8V394.2H1419.8V394.2H1420.8V394.2H1421.8V393.5H1422.4V388.0H1423.4V388.0H1424.4V388.0H1425.4V388.0H1426.4V388.0H1427.4V388.0H1428.4V388.0H1429.4V388.0" fill="none" stroke="#5c5c5c" stroke-width="2.0" stroke-linejoin="miter" stroke-linecap="butt"/>
<path d="M865.4 362.3H868.2V362.3H871.0V362.3H873.8V362.3V212.7H876.5V212.7H879.2V212.7V180.3H880.5V180.3V151.8H882.8V151.8H885.1V151.8V127.1H886.4V127.1V83.2H887.4V83.2V188.8H889.8V188.8V134.8H892.1V102.4H895.2V87.0H898.2V72.4H899.0V116.3H902.1V104.0H904.0V121.9H906.0V136.4H908.3V108.6H909.8V96.3H912.9V85.5H915.2V102.4H917.5V78.5H920.6V78.5V104.0H923.2V105.8H925.7V105.5H928.3V104.0V125.6H930.6V93.2H932.9V91.6H935.3V93.6H937.6V93.2H938.3V113.2H940.2V103.7H942.2V94.7H943.7V110.1H946.0V114.5H948.4V118.6H950.7V99.3H952.6V105.6H954.5V114.8H957.6V86.2H960.3V83.5H963.0V83.2H963.8V97.8H965.7V98.3H967.6V99.3H970.0V111.7H973.0V125.6H976.1V117.8H979.2V125.6H982.3V119.4H985.4V128.6H987.7V132.2H990.0V137.9H991.9V143.5H993.8V149.5H995.8V140.4H997.7V134.8H1000.8V125.6H1003.9V119.4H1004.6V131.7H1007.3V137.1H1010.0V141.0H1012.4V142.3H1014.7V144.1H1016.2V154.9H1018.2V159.5H1020.1V164.1H1022.0V154.2H1023.9V142.5H1026.6V138.9H1029.3V136.4H1031.6V144.1H1033.9V147.9H1036.2V154.9H1039.3V144.3H1042.4V131.7H1044.7V136.7H1047.0V141.0H1050.0V134.8H1052.7V136.1H1055.4V136.3H1057.3V129.8H1059.3V122.4H1062.3V111.6H1064.7V111.0H1067.0V107.0H1069.3V98.0H1071.6V90.0H1073.5V91.3H1075.4V90.8H1078.5V96.2H1080.8V99.6H1083.2V103.9H1085.9V109.6H1088.6V114.7H1090.9V117.6H1093.2V119.3H1095.5V123.3H1097.8V128.6H1100.5V132.6H1103.2V139.4H1105.2V137.0H1107.1V134.8H1109.4V137.0H1111.7V137.8H1114.0V144.3H1116.3V150.2H1119.4V152.3H1122.5V154.8H1124.8V161.4H1127.1V167.1H1129.4V169.1H1131.7V173.3H1134.1V175.3H1136.4V179.5H1138.7V175.1H1141.0V171.8H1143.3V179.0H1145.6V184.1H1148.7V189.2H1151.8V196.4H1154.8V196.7H1157.9V199.5H1161.0V198.2H1164.1V199.5H1167.2V203.4H1170.3V210.3H1173.3V214.2H1176.4V219.6H1179.5V222.9H1182.6V225.7H1185.7V232.1H1188.8V236.5H1190.9V239.6H1193.1V243.3H1195.2V247.3H1197.8V246.6H1200.4V247.3H1203.8V257.6H1206.4V260.5H1209.0V264.6H1211.6V268.9H1214.2V271.5H1216.5V273.4H1218.8V274.1H1221.1V276.6H1223.4V278.8H1225.7V284.4H1228.0V287.0H1230.9V287.9H1233.7V288.6H1236.6V287.9H1238.4V293.9H1241.3V293.1H1244.1V294.0H1247.0V293.9H1249.3V298.3H1251.6V300.5H1253.9V303.4H1256.8V305.0H1259.7V303.0H1262.6V304.3H1263.4V314.7" fill="none" stroke="#000" stroke-width="1.8" stroke-linejoin="miter" stroke-linecap="butt"/>
<path d="M114.0 967.6H115.0V967.6H116.0V967.6H117.0V967.6H118.0V967.6H119.0V967.6H119.9V967.6H120.9V967.6H121.9V967.6H122.9V967.6H123.9V967.6V896.9H124.8V896.9H125.7V896.9H126.7V896.9H127.6V896.9H128.5V896.9V766.5H129.4V766.5H130.3V766.5H131.3V766.5H132.2V766.5H133.1V766.5V864.0H134.1V864.0H135.0V864.0H136.0V864.0V826.0H137.0V818.9H138.0V822.2H139.0V825.9H140.0V826.0H141.2V833.0H142.4V821.0H143.3V833.0H144.1V811.6H145.0V835.0H145.9V830.8H146.9V839.5H147.8V843.7H148.8V827.8H149.8V832.4H150.7V821.0H151.7V822.3H152.8V827.8H153.8V812.0H154.9V816.2H155.9V818.7H157.0V822.2H158.0V815.0H158.9V806.9H159.9V807.3H160.8V809.5H161.8V812.7H162.7V814.9H163.6V818.1H164.6V820.1H165.5V810.0H166.5V801.8H167.5V806.1H168.6V807.6H169.6V809.5H170.6V813.2H171.6V815.6H172.7V800.8H173.7V804.1H174.7V808.0H175.7V807.0H176.7V811.4H177.7V813.7H178.7V797.2H179.7V800.0H180.7V803.4H181.7V806.5H182.7V809.5H183.7V812.3H184.7V790.9H185.7V797.4H186.7V805.2H187.7V800.7H188.7V811.4H189.7V792.9H190.8V797.1H191.8V798.8H192.8V801.4H193.8V802.4H194.9V805.6H195.9V790.3H196.9V798.8H197.9V791.0H198.9V794.4H199.9V798.0H200.9V799.8H201.9V803.4H203.0V781.0H204.0V784.2H205.0V785.4H206.0V787.9H207.0V787.8H208.0V785.9H208.9V789.4H209.9V794.2H210.8V795.1H211.7V777.8H212.7V782.5H213.6V784.0H214.6V785.4H215.6V790.6H216.6V773.6H217.6V774.2H218.6V776.1H219.7V776.6H220.7V777.7H221.7V777.8H222.7V777.2H223.7V778.9H224.7V771.1H225.7V761.8H226.7V764.6H227.7V766.3H228.7V768.1H229.7V769.8H230.7V771.9H231.6V775.6H232.6V756.5H233.6V763.0H234.6V770.1H235.6V776.6H236.6V755.6H237.6V763.7H238.6V759.0H239.7V763.3H240.7V766.8H241.7V770.1H242.8V752.0H243.8V756.9H244.8V760.7H245.9V764.4H246.9V760.0H247.9V768.6H249.0V751.4H250.0V746.2H251.0V741.7H252.1V746.0H253.1V749.7H254.1V755.7H255.2V758.6H256.2V750.8H257.2V744.2H258.2V747.5H259.3V748.2H260.3V751.6H261.3V752.4H262.3V755.1H263.4V757.8H264.4V742.7H265.4V750.8H266.4V743.6H267.3V746.7H268.3V749.1H269.2V749.9H270.2V751.7H271.2V736.1H272.1V737.8H273.1V740.0H274.1V739.9H275.0V741.8H276.0V744.7H277.0V747.3H277.9V737.5H278.9V741.4H279.8V743.8H280.8V744.7H281.8V747.0H282.9V750.1H283.9V752.3H284.9V741.8H286.0V744.9H287.0V750.8H288.0V747.6H288.9V749.9H289.9V751.1H290.9V752.6H291.8V739.1H292.8V739.2H293.7V740.9H294.7V740.0H295.7V741.8H296.8V744.2H297.8V747.3H298.8V737.9H299.9V741.4H300.9V744.5H301.9V747.5H303.0V750.1H304.0V746.2H305.0V741.5H306.0V740.9H307.1V740.5H308.1V740.7H309.1V741.2H310.1V735.4H311.1V731.5H312.2V734.1H313.2V736.2H314.2V737.9H315.3V740.4H316.3V743.1H317.3V732.3H318.4V736.8H319.4V740.0H320.4V739.9H321.3V743.6H322.3V745.8H323.2V733.9H324.2V737.8H325.2V741.9H326.1V746.2H327.1V740.0H328.1V734.9H329.2V738.4H330.2V741.5H331.2V743.7H332.3V747.4H333.3V738.1H334.3V740.3H335.4V741.2H336.4V743.1H337.4V742.8H338.4V743.9H339.5V745.2H340.5V746.6H341.5V747.6H342.5V741.2H343.6V742.2H344.6V743.7H345.6V744.7H346.6V746.3H347.7V747.6H348.7V749.9H349.7V743.0H350.8V745.1H351.8V746.4H352.8V748.1H353.9V748.8H354.9V749.3H355.9V751.7H356.9V753.1H358.0V754.8H359.0V747.2H360.0V749.4H361.0V751.7H362.1V753.4H363.1V755.1H364.1V755.5H365.1V758.4H366.2V760.9H367.2V763.1H368.2V754.9H369.3V757.6H370.3V760.5H371.3V763.9H372.4V766.6H373.4V763.2H374.4V760.7H375.4V762.9H376.4V765.1H377.5V768.2H378.5V770.9H379.5V769.3H380.5V774.6H381.6V769.6H382.6V772.1H383.6V774.3H384.7V777.2H385.7V777.1H386.7V780.8H387.8V776.7H388.8V779.7H389.8V781.9H390.9V784.2H391.9V786.5H392.9V781.7H394.0V784.5H395.0V787.8H396.0V787.5H396.9V790.1H397.9V791.8H398.9V794.1H399.8V795.6H400.8V789.9H401.7V791.6H402.7V795.6H403.7V794.8H404.7V796.8H405.8V798.4H406.8V800.4H407.8V802.4H408.8V804.5H409.9V798.6H410.9V800.7H411.9V803.3H412.9V803.2H413.8V805.3H414.8V807.9H415.8V809.7H416.7V812.6H417.7V806.4H418.6V808.9H419.6V812.5H420.6V812.2H421.5V814.0H422.5V816.5H423.5V817.9H424.4V820.2H425.4V814.4H426.3V816.3H427.3V818.7H428.3V818.8H429.2V820.1H430.2V822.0H431.1V823.8H432.1V825.1H433.1V826.8H434.0V823.4H435.0V826.4H436.0V825.3H436.9V826.0H437.9V826.7H438.9V827.9H439.9V828.8H440.9V823.5H441.8V825.4H442.8V826.4H443.8V828.5H444.9V831.0H445.9V826.1H446.9V828.8H447.9V831.7H449.0V834.6H450.0V832.6H451.0V831.1H452.0V833.1H453.0V834.3H454.0V835.8H455.0V837.4H456.0V839.1H457.0V840.8H458.0V837.3H459.0V839.5H460.0V841.8H461.0V844.4H462.0V840.5H463.0V843.3H464.0V845.4H465.0V847.9H466.0V843.8H467.0V846.0H468.0V847.6H469.0V849.7H470.0V851.4H471.0V853.2H472.0V848.3H473.0V850.5H474.0V853.3H475.0V855.7H476.0V857.8H477.0V853.0H478.0V854.8H479.0V856.7H480.0V858.3H481.1V859.9H482.2V861.9H483.2V863.9H484.3V860.4H485.4V862.5H486.5V864.8H487.5V864.3H488.4V865.4H489.4V866.2H490.3V867.2H491.3V871.2H492.3V869.1H493.3V869.3H494.2V870.3H495.2V870.9H496.2V874.5H497.3V875.9H498.4V877.8H499.4V879.3H500.5V881.0H501.6V877.4H502.7V881.0H503.7V879.2H504.6V879.8H505.6V880.6H506.5V881.4H507.5V889.1H508.6V889.7H509.7V890.4H510.8V890.6H511.8V885.3H512.9V886.2H514.0V887.4H515.1V887.5H516.2V889.5H517.2V891.3H518.3V893.5H519.4V895.3H520.5V893.9H521.5V891.3H522.4V892.3H523.4V893.1H524.3V893.8H525.3V902.0H526.4V902.3H527.5V903.3H528.5V903.7H529.6V899.6H530.7V900.0H531.8V900.4H532.8V901.9H533.8V903.4H534.8V901.1H535.8V903.8H536.9V906.3H537.9V909.0H538.9V906.2H539.9V908.5H541.0V908.6H542.1V910.0H543.1V911.4H544.2V912.7H545.3V910.9H546.4V913.3H547.4V913.5H548.4V914.9H549.4V916.3H550.5V917.9H551.5V916.0H552.5V917.5H553.5V918.8H554.5V919.8H555.5V919.9H556.6V920.4H557.6V921.0H558.7V919.0H559.8V919.4H560.8V919.9H561.9V920.4H562.9V921.1H564.0V921.8H565.0V920.6V926.3H566.0V926.4H567.0V926.4H568.0V926.5H569.1V926.6H570.1V926.6H571.1V926.7H572.1V926.8H573.1V926.8H574.2V926.9H575.2V927.0H576.2V927.0H577.2V927.1V932.0H578.2V932.0H579.3V932.0H580.4V932.0H581.4V932.0H582.5V932.0H583.5V932.0H584.6V932.0H585.6V932.0H586.7V932.0H587.7V932.0V938.4H588.7V938.4H589.8V938.4H590.8V938.4H591.8V938.4H592.8V938.4H593.9V938.4H594.9V938.4H595.9V938.4H596.9V938.4H598.0V938.4H599.0V938.4H600.0V938.4H601.0V938.4H602.1V938.4H603.1V938.4V944.1H604.1V944.1H605.1V944.1H606.1V944.1H607.1V944.1H608.1V944.1H609.1V944.1H610.1V944.1H611.2V944.1H612.2V944.1H613.2V944.1H614.2V944.1H615.2V944.1H616.2V944.1H617.2V944.1H618.2V944.1H619.2V944.1V949.8H620.2V949.8H621.2V949.8H622.1V949.8H623.1V949.8H624.1V949.8H625.1V949.8H626.0V949.8H627.0V949.8H628.0V949.8H629.0V949.8H629.9V949.8H630.9V949.8H631.9V949.8H632.9V949.8H633.8V949.8H634.8V949.8H635.8V949.8H636.8V949.8H637.7V949.8H638.7V949.8V956.2H639.7V956.2H640.7V956.2H641.6V956.2H642.6V956.2H643.6V956.2H644.6V956.2H645.6V956.2H646.6V956.2H647.5V956.2H648.5V956.2H649.5V956.2H650.5V956.2H651.5V956.2H652.5V956.2H653.4V956.2H654.4V956.2H655.4V956.2H656.4V956.2H657.4V956.2H658.3V956.2H659.3V956.2H660.3V956.2H661.3V956.2H662.3V956.2H663.3V956.2H664.2V956.2H665.2V956.2H666.2V956.2V961.6H667.2V961.6H668.1V961.6H669.1V961.6H670.1V961.6H671.0V961.6H672.0V961.6H673.0V961.6H674.0V961.6H674.9V961.6H675.9V961.6" fill="none" stroke="#5c5c5c" stroke-width="2.0" stroke-linejoin="miter" stroke-linecap="butt"/>
<path d="M114.0 967.6H115.0V967.6H116.0V967.6H116.9V967.6H117.9V967.6H118.9V967.6H119.9V967.6H120.8V967.6H121.8V967.6H122.8V967.6H123.8V967.6H124.8V967.6H125.7V967.6H126.7V967.6H127.7V967.6H128.7V967.6H129.6V967.6H130.6V967.6H131.6V967.6V1109.3H132.7V1109.3H133.7V1109.3H134.8V1109.3H135.8V1109.3H136.9V1109.3H138.0V1109.3H139.0V1109.3H140.1V1109.3V1167.4H141.1V1167.4H142.1V1167.4H143.1V1167.4H144.1V1167.4H145.1V1167.4H146.1V1167.4V1212.5H147.1V1212.5H148.1V1212.5H149.1V1212.5H150.1V1212.5H151.1V1212.5H152.1V1212.5V1072.2H153.1V1109.3H154.1V1102.9H155.1V1102.9H156.1V1110.0H157.1V1119.2H158.1V1109.3H159.1V1142.4H160.1V1152.2H161.1V1084.2H162.1V1093.9H163.1V1114.3H164.1V1112.7H165.1V1113.1H166.1V1123.9H167.1V1142.4H168.1V1098.3H169.1V1107.7H170.1V1097.4H171.1V1088.0H172.1V1123.3H173.1V1123.1H174.1V1086.3H175.1V1087.6H176.1V1085.5H177.1V1087.0H178.1V1076.2H179.1V1076.3H180.1V1104.3H181.1V1103.7H182.1V1103.1H183.1V1110.0H184.2V1094.5H185.2V1094.5H186.2V1110.3H187.2V1100.7H188.2V1084.2H189.2V1085.0H190.2V1089.0H191.2V1083.1H192.2V1078.2H193.2V1073.6H194.2V1082.0H195.2V1082.0H196.2V1096.3H197.2V1096.3H198.2V1097.3H199.2V1096.4H200.2V1108.3H201.2V1107.5H202.2V1108.9H203.2V1114.7H204.2V1082.2H205.2V1088.5H206.2V1081.2H207.2V1078.5H208.2V1114.3H209.2V1115.5H210.2V1113.8H211.2V1115.4H212.2V1090.3H213.2V1089.2H214.2V1095.6H215.2V1090.3H216.2V1089.3H217.2V1089.7H218.2V1116.3H219.2V1116.0H220.2V1122.7H221.2V1122.7H222.2V1096.3H223.2V1095.2H224.2V1095.6H225.2V1095.9H226.2V1092.1H227.2V1092.1H228.2V1101.8H229.2V1090.3H230.2V1094.7H231.2V1082.9H232.2V1116.3H233.2V1109.1H234.2V1117.2H235.2V1115.3H236.3V1117.4H237.3V1115.3H238.3V1108.3H239.3V1100.8H240.3V1122.3H241.3V1115.0H242.3V1122.0H243.3V1122.0H244.3V1121.2H245.3V1121.2H246.3V1102.3H247.3V1101.3H248.3V1101.5H249.3V1102.6H250.3V1126.3H251.3V1129.3H252.3V1129.3H253.3V1126.7H254.3V1125.9H255.3V1126.8H256.3V1125.3H257.3V1126.4H258.3V1120.3H259.3V1120.6H260.3V1119.7H261.3V1123.1H262.3V1114.3H263.3V1117.0H264.3V1114.2H265.3V1118.0H266.3V1118.0H267.3V1111.1H268.3V1130.3H269.3V1127.2H270.3V1129.5H271.3V1130.9H272.3V1118.3H273.3V1118.4H274.3V1114.8H275.3V1114.8H276.3V1114.8H277.3V1118.4H278.3V1118.9H279.3V1117.9H280.3V1119.0H281.3V1122.6H282.3V1120.3H283.3V1124.4H284.4V1119.8H285.4V1119.6H286.4V1136.4H287.4V1135.6H288.4V1136.5H289.4V1136.5H290.4V1131.4H291.4V1131.4H292.4V1131.4H293.4V1140.6H294.4V1122.3H295.4V1126.3H296.4V1126.3H297.4V1122.6H298.4V1130.3H299.4V1127.3H300.4V1127.3H301.4V1127.3H302.4V1132.6H303.4V1130.3H304.3V1134.7H305.3V1134.7H306.3V1130.4H307.3V1129.8H308.3V1125.7H309.2V1125.8H310.1V1125.2H311.1V1122.0H312.0V1121.6H312.9V1121.6H313.8V1135.4H314.8V1139.9H315.8V1139.9H316.8V1131.9H317.7V1135.3H318.7V1137.9H319.7V1137.9H320.7V1134.0H321.7V1136.5H322.7V1130.9H323.7V1130.9H324.6V1136.0H325.6V1136.0H326.6V1136.0H327.6V1131.2H328.7V1130.6H329.7V1131.5H330.8V1130.8H331.8V1142.3H332.8V1139.4H333.8V1142.9H334.8V1146.8H335.7V1142.2H336.7V1142.9H337.7V1142.9H338.7V1136.8H339.7V1137.4H340.7V1136.6H341.7V1133.2H342.6V1133.2H343.6V1137.3H344.6V1141.0H345.6V1131.2H346.7V1130.7H347.7V1134.5H348.8V1134.5H349.8V1135.4H350.8V1133.7H351.8V1137.3H352.8V1135.3H353.7V1135.4H354.7V1135.9H355.7V1136.0H356.7V1145.0H357.7V1144.9H358.8V1142.6H359.8V1142.6H360.8V1131.2H361.7V1133.8H362.6V1133.8H363.6V1133.8H364.5V1127.8H365.4V1134.8H366.3V1134.0H367.3V1134.3H368.4V1130.6H369.4V1134.1H370.5V1136.0H371.5V1136.0H372.5V1130.7H373.6V1134.1H374.6V1134.0H376.0V1138.8H377.0V1138.4H378.0V1141.4H379.0V1141.4H379.9V1141.4H380.9V1138.9H381.9V1138.8H382.9V1136.8H384.3V1128.5H385.4V1128.6H386.4V1128.8H387.4V1130.5H388.5V1134.0H389.5V1136.0H390.6V1136.0H391.6V1133.5H392.6V1133.5H393.7V1131.9H394.7V1131.9H395.8V1131.9H396.8V1134.0H397.8V1132.6H398.9V1132.6H399.9V1132.6H400.9V1134.1H401.9V1133.9H402.9V1135.9H404.0V1135.9H405.0V1131.2H406.0V1131.0H406.9V1130.7H407.9V1130.7H408.9V1131.6H409.9V1133.1H410.8V1133.1H411.8V1130.8H412.8V1128.2H413.7V1128.2H414.7V1132.6H415.8V1132.7H416.8V1134.3H417.8V1133.0H418.9V1129.8H419.9V1129.6H420.8V1129.8H421.8V1129.6H422.7V1127.1H423.7V1131.3H424.7V1131.3H425.6V1131.3H426.6V1127.3H427.5V1130.1H428.5V1128.5H429.5V1128.5H430.6V1130.4H431.6V1130.4H432.6V1128.9H433.7V1128.5H434.7V1131.4H435.8V1131.4H436.8V1125.7H437.8V1128.5H438.8V1122.8H439.8V1122.8H440.7V1125.5H441.7V1125.7H442.7V1127.3H443.7V1120.2H444.7V1120.1H445.8V1120.4H446.8V1119.9H447.9V1118.7H448.9V1118.7H449.9V1119.8H451.0V1118.3H452.0V1117.4H453.0V1117.7H454.1V1117.4H455.1V1119.2H456.1V1117.8H457.2V1117.6H458.2V1117.6H459.3V1117.5H460.3V1117.4H461.2V1117.4H462.2V1117.5H463.1V1119.2H464.0V1119.2H465.0V1119.8H465.9V1110.5H466.9V1112.8H467.9V1110.2H468.9V1110.4H469.8V1110.2H470.8V1110.6H471.8V1109.4H472.8V1111.9H473.8V1110.9H474.9V1111.9H475.9V1114.0H476.9V1106.3H477.9V1104.9H479.0V1104.9H480.0V1106.1H481.0V1106.5H482.1V1108.0H483.1V1108.0H484.2V1108.0H485.2V1099.4H486.2V1099.7H487.1V1098.2H488.1V1098.2H489.0V1100.7H490.0V1097.8H491.0V1099.1H492.1V1099.1H493.1V1097.7H494.1V1096.0H495.2V1096.0H496.2V1097.8H497.3V1097.8H498.3V1095.0H499.3V1094.8H500.3V1096.7H501.3V1095.0H502.2V1093.8H503.2V1095.2H504.2V1095.2H505.2V1086.8H506.1V1086.6H507.0V1088.4H507.9V1088.4H508.9V1087.0H509.8V1085.7H510.7V1086.1H511.7V1085.0H512.6V1087.7H513.6V1087.5H514.6V1087.5H515.5V1084.6H516.5V1084.6H517.5V1086.2H518.5V1085.9H519.4V1086.2H520.4V1081.2H521.4V1082.0H522.4V1082.0H523.4V1080.4H524.3V1080.4H525.3V1082.8H526.3V1082.8H527.3V1079.8H528.2V1079.9H529.1V1079.8H530.0V1078.8H531.0V1078.8H531.9V1079.9H532.8V1074.3H533.8V1074.4H534.9V1075.2H535.9V1075.2H537.0V1074.1H538.0V1074.1H539.0V1074.4H540.1V1073.2H541.1V1072.9H542.1V1071.9H543.2V1073.5H544.2V1073.5H545.3V1067.4H546.3V1068.0H547.2V1066.3H548.2V1066.3H549.2V1066.5H550.1V1066.5H551.1V1066.5H552.1V1067.4H553.1V1067.2H554.0V1066.4H555.0V1065.3H555.9V1064.3H556.8V1065.1H557.8V1065.4H558.7V1065.1H559.6V1065.4H560.5V1057.7H561.5V1057.6H562.4V1057.8H563.4V1057.2H564.4V1057.2H565.4V1058.4H566.3V1057.5H567.3V1057.6H568.3V1057.8H569.2V1057.1H570.2V1057.7H571.5V1050.8H572.5V1050.4H573.6V1050.4H574.6V1050.8H575.6V1050.8H576.7V1050.8H577.7V1050.7H578.8V1050.7H579.8V1050.1H581.2V1045.3H582.2V1045.3H583.2V1045.7H584.2V1045.7H585.1V1045.7H586.1V1045.0H587.1V1045.0H588.1V1048.0H589.1V1048.1H590.2V1048.1H591.2V1048.1H592.3V1039.1H593.3V1039.1H594.4V1039.0H595.4V1039.0H596.5V1039.1H597.5V1039.1H598.5V1039.1H599.6V1039.1H600.6V1037.0H601.6V1037.0H602.7V1037.0H603.7V1037.0H604.7V1037.0H605.8V1037.0H606.8V1031.5H607.8V1031.5H608.8V1031.5H609.8V1031.5H610.8V1031.5H611.8V1031.5H612.8V1031.5H613.9V1031.5H614.9V1031.5H615.9V1031.5H616.9V1031.5H617.9V1031.5H618.9V1031.5H619.9V1031.5H620.8V1031.5H621.8V1031.5H622.7V1026.6H623.7V1026.5H624.8V1026.5H625.8V1026.4H626.8V1026.4H627.9V1026.3H628.9V1026.2H629.9V1026.2H631.0V1026.1H632.0V1026.1H633.0V1026.0H634.1V1026.0H635.1V1025.9H636.0V1025.9H637.0V1025.9H637.9V1025.9H638.8V1025.9H639.8V1025.9H640.7V1025.2H641.6V1025.2H642.5V1025.2H643.4V1021.1H644.4V1021.1H645.3V1021.1H646.2V1021.1H647.2V1021.1H648.1V1021.1H649.1V1021.1H650.0V1021.1H651.0V1020.4H651.7V1014.2H652.7V1014.1H653.7V1014.1H654.7V1014.0H655.7V1013.9H656.7V1013.9H657.8V1013.8H658.8V1013.8H659.8V1013.7H660.8V1013.6H661.8V1013.6H662.8V1013.5H663.7V1013.5H664.6V1013.5H665.5V1014.2H666.5V1014.2H667.6V1014.2H668.6V1014.2H669.6V1014.2H670.7V1014.2H671.7V1014.2H672.8V1014.2H673.8V1013.5H675.2V1009.4" fill="none" stroke="#5c5c5c" stroke-width="2.0" stroke-linejoin="miter" stroke-linecap="butt"/>
<path d="M114.6 967.5H117.4V967.5H120.2V967.5H122.9V967.5H125.7V967.5V825.7H128.3V825.7H131.0V825.7V967.5H133.0V967.5H135.0V967.5V909.0H137.8V909.0H140.5V909.0V922.7H144.2V922.7H145.1V902.4H146.1V865.4H148.2V865.7H150.4V865.9H152.5V865.4H153.5V903.3H154.4V874.7H156.2V826.6H158.1V859.9H160.9V859.9H162.7V835.8H165.5V845.1H167.3V871.0H171.0V876.5H174.7V878.4H176.6V900.6H180.3V882.1H181.2V867.3H184.0V869.1H185.8V858.0H189.5V858.0H191.4V876.5H193.2V896.9H195.1V913.5H196.9V887.6H199.7V895.3H202.5V900.6H204.3V887.6H206.2V859.9H209.9V876.5H210.8V891.3H213.6V874.7H216.3V882.1H217.3V856.2H220.0V832.1H221.9V846.9H224.2V847.9H226.5V850.6H229.3V853.5H232.1V855.2H234.8V834.0H238.5V835.8H241.3V861.7H245.0V873.7H248.7V845.1H251.5V847.4H254.3V846.9H256.1V839.5H258.1V846.5H260.0V850.6H261.9V853.6H263.9V858.8H266.5V854.2H269.0V849.0H271.6V843.4H274.7V855.0H277.8V866.5H280.8V835.7H283.1V850.4H285.5V861.9H288.6V851.9H291.6V841.8H294.7V852.6H297.8V871.1H300.9V889.6H304.6V903.1H307.2V904.2H309.7V907.2H312.3V906.9H315.4V921.6H318.0V923.1H320.5V923.0H323.1V924.7H324.7V934.7H327.0V934.5H329.3V935.5H330.8V943.2H332.8V943.9H334.7V944.7H337.0V958.6H339.3V964.1H341.6V972.5H344.7V986.4H347.0V989.8H349.3V992.5H352.4V1000.2H354.7V1014.1H356.6V1007.2H358.6V998.7H361.7V998.5H364.8V998.7H367.8V1006.4H370.1V1008.3H372.5V1007.9H375.6V1023.4H377.5V1018.6H379.4V1011.0H381.4V1018.1H383.3V1024.9H385.6V1029.3H387.9V1032.6H390.2V1034.5H392.5V1038.8H395.6V1054.2H397.9V1051.3H400.2V1051.1H401.8V1040.3H404.9V1043.4H407.9V1029.5H411.0V1041.9H413.4V1051.1H415.7V1057.3H418.8V1062.8H421.8V1069.6H424.1V1075.7H426.4V1083.5H429.5V1074.7H432.6V1063.5H435.7V1065.7H438.8V1066.5H441.1V1063.1H443.4V1061.9H445.7V1066.0H448.0V1071.2H451.1V1074.3H454.2V1078.9H457.3V1081.3H460.4V1085.0H463.4V1089.0H466.5V1095.8H469.6V1091.3H472.7V1086.6H475.8V1089.7H478.9V1063.5H481.2V1066.0H483.5V1069.6H485.8V1068.6H488.1V1068.1H490.0V1059.1H492.8V1050.8H495.6V1049.9H498.3V1050.8H501.1V1053.9H503.8V1059.1H506.6V1045.3H508.6V1039.2H510.7V1035.6H513.0V1036.1H515.3V1035.3H517.6V1034.2V1023.2H520.4V1020.6H523.2V1017.6H525.5V1018.2H527.8V1019.9H530.1V1022.5H532.2V1019.7H534.2V1019.0H536.3V1014.4H538.4V1010.7H541.2V1011.4H543.9V1013.8H546.7V1016.3H548.1V1021.1H550.8V1010.0H553.1V1010.6H555.4V1012.0H557.7V1014.2H560.5V1010.1H563.3V1005.2H566.0V1005.1H568.8V1005.2H571.5V996.9H573.8V996.6H576.2V996.1H578.5V996.2H580.4V984.6H583.6V979.7H586.9V984.6H589.6V984.7H592.3V985.3H595.0V984.6H596.6V979.7H599.0V978.4H601.4V978.1H603.1V974.1H605.5V972.7H607.9V973.3H611.2V961.9H613.3V961.9H615.5V961.6H617.6V961.9H619.2V967.6H621.8V968.2H624.3V966.8H626.9V968.4H629.4V966.6H632.0V967.7H634.5V967.5H637.1V967.6H638.7V960.3H640.3V966.8H643.5V957.1H645.2V956.2" fill="none" stroke="#000" stroke-width="1.8" stroke-linejoin="miter" stroke-linecap="butt"/>
<path d="M866.3 1050.9H868.3V1050.9H870.3V1050.9H872.3V1050.9H874.3V1050.9V967.3H875.5V967.3H875.9V1007.4H878.0V995.0H880.5V995.0H883.0V999.7H885.5V1004.9H887.4V998.5H889.2V993.8H891.2V991.5H893.3V992.6H895.3V990.1H897.1V990.0H899.0V990.1H900.9V989.4H902.7V988.9H904.6V987.9H906.4V988.4H908.3V987.3H910.2V987.3H912.0V986.3H913.9V985.2H915.9V984.2H918.0V980.9H920.0V979.0H922.2V976.7H924.4V975.5H926.5V976.0H928.7V974.1H930.7V969.8H932.8V968.0H934.8V964.2H936.9V962.5H938.9V958.7H941.0V958.0H943.2V955.6H945.5V950.1H947.7V949.4H949.9V945.0H951.7V944.6H953.6V941.3H955.4V941.5H957.3V940.1H959.1V938.0H961.4V933.0H963.7V930.8H966.0V926.5H967.9V923.1H969.7V923.1H971.6V920.1H973.4V918.7H975.3V914.9H977.6V909.7H979.9V906.7H982.2V903.4H984.1V902.2H986.1V900.6H988.0V897.8H989.9V898.3H991.9V896.7H993.8V894.1H995.6V892.4H997.5V890.7H999.3V891.1H1001.2V889.2H1003.0V888.3H1004.8V889.1H1006.5V888.9H1008.2V888.9H1010.0V889.5H1011.8V886.7H1013.7V885.7H1015.5V885.2H1017.4V884.6H1019.2V882.5H1021.1V880.4H1023.1V879.4H1025.0V876.9H1026.9V875.9H1028.9V873.4H1030.8V871.0H1032.6V869.1H1034.5V867.2H1036.3V865.6H1038.2V864.1H1040.0V864.0H1041.8V863.3H1043.5V861.6H1045.2V859.5H1047.0V857.1H1048.5V856.8H1050.0V858.7H1052.1V857.6H1054.1V854.6H1056.2V854.1H1058.0V855.0H1059.9V854.2H1061.7V854.3H1063.6V853.8H1065.4V853.3H1067.3V853.3H1069.2V854.7H1071.2V855.2H1073.1V854.1H1073.9V846.4H1076.2V849.5H1078.3V850.3H1080.3V852.4H1082.4V854.1H1084.3V855.1H1086.2V855.4H1088.2V855.1H1090.1V855.7H1092.2V856.6H1094.2V858.9H1096.3V858.7H1098.2V858.9H1100.2V859.5H1102.1V861.5H1104.0V861.8H1105.9V861.6H1107.8V863.6H1109.8V862.5H1111.7V863.4H1113.6V865.7H1115.6V865.4H1117.5V867.9H1119.4V868.0H1121.3V868.1H1123.2V867.5H1125.2V865.5H1127.1V865.7H1129.2V865.4H1131.3V865.6H1133.5V866.6H1135.6V868.0H1137.9V875.7H1139.8V877.3H1141.8V876.9H1143.7V878.5H1145.6V880.3H1147.7V881.5H1149.7V881.5H1151.8V883.4H1153.8V884.5H1155.9V885.8H1157.9V888.0H1159.9V889.2H1161.8V888.6H1163.8V891.6H1165.7V891.1H1167.6V892.9H1169.6V894.7H1171.5V895.9H1173.4V897.3H1175.3V898.4H1177.2V900.8H1179.2V901.7H1181.1V901.9H1183.0V904.2H1184.9V903.9H1186.9V906.8H1188.8V908.1H1190.7V910.7H1192.7V911.5H1194.6V912.7H1196.5V914.2H1198.2V915.8H1200.0V916.6H1202.2V916.4H1204.4V918.2H1206.6V918.2H1209.1V922.6H1211.6V925.7H1214.1V925.6H1216.6V927.4H1218.7V929.7H1220.8V932.2H1222.8V933.9H1224.9V936.5H1227.0V938.1H1229.2V939.8H1231.3V940.9H1233.4V940.8H1235.5V941.7H1237.7V944.4H1239.8V944.8H1241.9V946.9H1244.0V949.2H1246.0V951.1H1248.1V951.8H1250.2V954.3H1252.2V955.6H1254.3V958.4H1256.4V959.7H1258.4V961.0H1260.4V961.1H1262.5V962.5H1264.5V963.6H1266.5V963.8H1268.5V964.6H1270.6V966.1H1272.6V966.3H1274.6V968.0H1276.7V969.6H1278.8V972.1H1280.8V973.5H1282.9V974.6H1284.9V974.2H1286.9V975.8H1288.9V976.0H1290.9V976.3H1292.9V976.3H1294.9V977.0H1296.9V979.7H1298.9V980.3H1300.9V982.7H1302.8V983.5H1304.8V985.0H1306.8V986.2H1308.8V988.8H1310.8V989.3H1312.8V991.2H1314.8V992.6H1316.8V992.9H1318.8V993.2H1320.8V994.8H1322.8V995.4H1324.7V995.5H1326.7V997.5H1328.7V997.5H1330.7V997.9H1332.7V999.5H1334.8V1000.9H1336.8V1001.9H1338.9V1002.4H1341.0V1003.2H1343.1V1004.7H1345.2V1005.9H1347.2V1007.0H1349.3V1007.8H1351.4V1008.6H1353.5V1009.5H1355.5V1010.6H1357.6V1010.7H1359.7V1011.5H1361.8V1012.7H1363.8V1013.9H1365.9V1014.4H1368.0V1015.4H1370.1V1016.1H1372.1V1016.2H1374.2V1017.2H1376.3V1017.0H1378.3V1018.0H1380.4V1018.2H1382.5V1019.4H1384.6V1020.5H1386.6V1021.3H1388.7V1021.5H1390.8V1022.2H1392.8V1022.4H1394.9V1023.5H1396.9V1023.2H1399.0V1024.4H1401.1V1024.7H1403.2V1025.2H1405.2V1026.4H1407.3V1026.0H1409.4V1026.5H1411.4V1027.0H1413.5V1028.4H1415.6V1028.5H1417.6V1028.8H1419.6V1030.0H1421.6V1029.7H1423.7V1030.9H1425.7V1030.6H1427.7V1031.9H1429.7V1031.9" fill="none" stroke="#5c5c5c" stroke-width="2.0" stroke-linejoin="miter" stroke-linecap="butt"/>
<path d="M866.1 1050.8H868.0V1050.8H869.9V1050.8H871.7V1050.8H873.6V1050.8H875.5V1050.8V1110.5H877.0V1110.5H878.6V1110.5V1153.0H879.6V1108.4H881.3V1107.8H883.1V1104.8H884.8V1105.3H886.5V1102.5H888.3V1100.3H890.0V1099.1H891.7V1103.0H893.5V1105.9H895.2V1108.4H897.3V1109.1H899.4V1106.0H901.4V1106.6H903.5V1106.3H905.6V1104.5H907.6V1104.8H909.7V1105.3H911.8V1106.7H913.8V1106.6H915.9V1109.5H918.0V1111.0H920.0V1114.8H922.1V1116.7H924.2V1117.1H926.2V1116.4H928.3V1117.8H930.4V1117.8H932.5V1120.0H934.6V1118.8H936.6V1122.5H938.7V1123.4H940.8V1124.0H942.9V1125.8H945.0V1127.6H947.0V1132.4H949.1V1133.3H951.2V1133.6H953.2V1133.6H955.3V1134.4H957.4V1136.4H959.5V1138.7H961.5V1139.3H963.6V1141.2H965.7V1141.6H967.8V1143.7H969.8V1144.5H971.9V1147.2H974.0V1146.8H976.0V1148.7H978.1V1149.9H980.2V1152.2H982.2V1152.8H984.3V1154.9H986.4V1155.1H988.5V1158.2H990.5V1161.4H992.6V1162.3H994.7V1166.5H996.8V1167.0H998.9V1168.5H1000.9V1169.2H1003.0V1171.7H1005.1V1171.7H1007.1V1172.1H1009.2V1173.4H1011.3V1174.8H1013.4V1176.5H1015.5V1177.0H1017.5V1178.3H1019.6V1180.0H1021.7V1179.9H1023.8V1180.9H1025.8V1183.6H1027.9V1183.1H1030.0V1184.5H1032.1V1185.5H1034.1V1185.2H1036.2V1187.2H1038.3V1189.7H1040.3V1189.9H1042.4V1192.3H1044.5V1194.5H1046.6V1196.9H1048.7V1196.9H1050.7V1197.7H1052.8V1198.6H1054.8V1200.4H1056.9V1202.1H1059.0V1203.3H1061.0V1203.8H1063.1V1203.3H1065.2V1203.0H1067.2V1204.0H1069.3V1204.8H1071.4V1204.5H1073.5V1204.7H1075.5V1207.1H1077.6V1207.2H1079.7V1206.0H1081.8V1206.9H1083.9V1206.5H1085.9V1205.1H1088.0V1205.7H1090.1V1203.8H1092.2V1204.7H1094.2V1205.2H1096.3V1206.9H1098.4V1205.2H1100.4V1205.0H1102.5V1203.8H1104.6V1203.3H1106.6V1204.4H1108.7V1205.3H1110.8V1204.2H1112.8V1203.9H1114.9V1204.8H1117.0V1205.9H1119.1V1204.4H1121.1V1203.1H1123.2V1202.8H1125.3V1203.8H1127.4V1201.8H1129.4V1202.1H1131.5V1200.7H1133.6V1201.0H1135.7V1199.7H1137.7V1198.3H1139.8V1198.7H1141.9V1198.6H1144.0V1199.2H1146.1V1197.4H1148.1V1197.9H1150.2V1197.0H1152.3V1195.5H1154.3V1194.0H1156.2V1195.4H1158.2V1195.0H1160.1V1194.3H1162.1V1193.3H1164.0V1194.0H1166.0V1193.3H1168.0V1190.8H1170.0V1190.0H1172.0V1188.4H1174.1V1188.1H1176.1V1186.3H1178.1V1183.2H1180.1V1182.2H1182.1V1182.1H1184.1V1181.2H1186.1V1182.8H1188.1V1182.6H1190.1V1181.1H1192.1V1181.8H1194.1V1181.6H1196.1V1181.2H1198.1V1178.4H1200.1V1177.2H1202.1V1176.4H1204.1V1174.5H1206.1V1173.7H1208.1V1171.8H1210.1V1169.1H1212.1V1168.5H1214.1V1166.4H1216.1V1166.2H1218.1V1166.6H1220.1V1165.9H1222.1V1165.2H1224.2V1163.5H1226.2V1162.3H1228.2V1163.6H1230.2V1162.2H1232.2V1161.9H1234.2V1158.8H1236.2V1158.4H1238.2V1157.2H1240.2V1155.3H1242.2V1155.8H1244.2V1154.8H1246.2V1152.4H1248.2V1152.1H1250.2V1151.2H1252.2V1149.9H1254.2V1147.9H1256.2V1147.8H1258.2V1145.4H1260.2V1143.6H1262.2V1142.9H1264.2V1141.9H1266.2V1139.4H1268.2V1138.2H1270.2V1137.2H1272.2V1137.5H1274.2V1136.1H1276.2V1134.9H1278.2V1134.4H1280.2V1132.9H1282.3V1132.4H1284.3V1131.9H1286.3V1131.7H1288.3V1130.3H1290.3V1130.1H1292.3V1128.4H1294.3V1126.9H1296.3V1126.7H1298.3V1124.8H1300.3V1124.9H1302.3V1123.6H1304.3V1120.9H1306.3V1120.0H1308.3V1119.6H1310.3V1118.1H1312.3V1116.8H1314.3V1115.8H1316.3V1116.5H1318.3V1115.0H1320.3V1114.1H1322.4V1113.8H1324.4V1113.0H1326.4V1111.2H1328.4V1110.2H1330.4V1110.1H1332.4V1109.0H1334.4V1108.0H1336.4V1107.0H1338.4V1106.5H1340.4V1105.4H1342.4V1104.9H1344.4V1102.4H1346.4V1101.9H1348.4V1100.8H1350.4V1100.1H1352.4V1100.0H1354.4V1098.3H1356.4V1097.5H1358.4V1097.2H1360.4V1096.5H1362.4V1095.6H1364.4V1094.8H1366.4V1095.2H1368.4V1093.7H1370.4V1093.1H1372.4V1092.9H1374.4V1091.8H1376.4V1090.3H1378.4V1091.0H1380.5V1090.1H1382.5V1089.6H1384.5V1088.8H1386.5V1088.0H1388.5V1086.3H1390.5V1086.1H1392.5V1085.4H1394.5V1084.3H1396.5V1083.8H1398.5V1082.7H1400.5V1082.4H1402.5V1082.5H1404.5V1080.8H1406.5V1080.8H1408.5V1079.6H1410.5V1079.0H1412.4V1078.6H1414.3V1079.0H1416.2V1078.7H1418.1V1077.9H1420.0V1077.8H1422.0V1076.8H1423.9V1076.6H1425.8V1077.2H1427.7V1076.4H1429.6V1076.0" fill="none" stroke="#5c5c5c" stroke-width="2.0" stroke-linejoin="miter" stroke-linecap="butt"/>
<path d="M879.3 1000.0V993.8H880.5V979.0V929.6H882.0V929.6H883.6V929.6H884.8V946.9H886.1V929.6H887.9V924.7H888.5V913.6H889.8V900.0H890.9V887.2H893.2V872.5H895.5V860.6H897.4V859.3H899.4V855.7H901.3V854.8H903.6V857.0H905.9V859.4H908.2V848.4H910.6V836.3H912.3V826.2H914.0V814.3H915.9V815.3H917.9V816.6H919.8V817.8H921.9V821.6H924.0V828.2H925.7V818.0H927.4V807.8H929.1V798.2H931.4V799.6H933.7V799.1H936.0V799.3H938.3V792.5H940.6V784.3H942.5V787.9H944.5V791.0H946.4V795.8H948.3V795.7H950.3V794.5H952.2V792.4H954.5V795.9H956.8V798.9H959.1V803.9H961.4V806.8H963.7V809.7H966.0V812.0H968.4V814.3H970.2V813.5H972.1V811.3H973.9V809.5H975.8V808.0H977.6V806.2H979.5V806.3H981.3V805.9H983.2V806.4H985.0V809.4H986.9V808.6H989.2V812.2H991.5V813.4H993.8V816.6H996.1V817.7H998.4V816.6H1000.7V810.3H1003.0V803.9H1004.9V804.9H1006.7V809.1H1008.6V810.4H1010.4V813.4H1012.3V814.3H1014.6V809.0H1016.9V801.6H1019.2V797.0H1021.1V795.5H1022.9V794.1H1024.8V792.5H1026.6V789.1H1028.5V787.7H1030.4V786.2H1032.3V785.2H1034.2V782.2H1036.2V782.5H1038.1V780.8H1040.0V778.5H1041.8V777.9H1043.5V779.9H1045.2V779.9H1047.0V780.8H1048.5V778.4H1050.0V777.8H1051.9V776.3H1053.8V775.6H1055.8V772.7H1057.7V770.8H1059.8V771.3H1061.8V773.9H1063.9V775.5H1065.8V772.7H1067.7V768.5H1069.5V770.7H1071.3V771.1H1073.1V771.6H1075.0V768.5H1077.0V767.8H1078.9V771.7H1080.8V773.2H1082.3V773.1H1083.9V772.4H1086.2V775.2H1088.6V780.1H1090.5V781.8H1092.4V785.5H1094.3V782.5H1096.3V781.6H1098.6V785.9H1100.9V789.3H1103.0V790.2H1105.0V793.7H1107.1V794.7H1108.9V794.6H1110.8V796.7H1112.6V797.4H1114.5V797.3H1116.3V799.4H1118.6V802.3H1120.9V807.8H1122.8V812.3H1124.8V814.8H1126.3V813.7H1127.9V810.2H1129.8V810.4H1131.8V813.1H1133.7V814.9H1135.6V814.8H1137.9V826.4H1140.2V833.6H1142.5V838.7H1144.5V843.5H1146.4V846.4H1148.3V849.1H1150.2V852.6H1152.6V858.5H1154.9V863.4H1156.9V866.0H1159.0V869.6H1161.0V871.1H1163.0V873.2H1164.9V874.2H1166.8V878.9H1168.7V881.9H1170.8V884.3H1172.8V884.7H1174.9V886.5H1176.7V888.8H1178.5V889.1H1180.3V891.9H1181.1V900.4H1183.4V902.7H1185.7V906.5H1187.6V908.7H1189.6V908.6H1191.5V910.5H1193.4V911.2H1195.7V916.8H1198.0V922.0H1200.3V923.7H1202.7V926.6H1204.5V927.0H1206.3V928.0H1208.2V926.8H1210.0V927.4H1211.7V932.4H1213.3V938.1H1214.9V940.7H1216.6V944.8H1218.8V945.7H1221.0V948.9H1223.2V949.8H1225.4V951.9H1227.7V954.2H1229.9V954.7H1231.9V956.8H1233.9V959.1H1235.8V959.0H1237.8V960.6H1239.8V963.0H1242.0V964.0H1244.2V966.1H1246.4V968.0H1248.5V970.4H1250.6V969.9H1252.6V971.7H1254.7V973.0H1256.3V975.3H1258.0V979.6H1260.0V979.8H1262.0V982.3H1264.0V983.8H1266.0V984.9H1268.0V986.2H1270.2V989.4H1272.4V991.5H1274.6V992.9H1276.7V995.2H1278.8V995.6H1280.8V996.1H1282.9V997.9H1285.4V999.5H1287.9V1002.8H1289.9V1004.4H1291.9V1004.0H1293.9V1004.7H1295.9V1007.2H1297.9V1007.8H1299.8V1007.8H1301.8V1009.7H1303.7V1009.6H1305.6V1011.0H1307.6V1010.9H1309.5V1012.8H1311.7V1013.6H1313.9V1014.6H1316.1V1016.1H1318.1V1015.9H1320.1V1016.0H1322.1V1017.3H1324.1V1017.9H1326.1V1017.8H1328.3V1017.1H1330.5V1016.8H1332.7V1017.8H1334.7V1018.0H1336.7V1019.6H1338.6V1019.3H1340.6V1020.8H1342.6V1021.1H1344.7V1020.6H1346.8V1022.4H1348.8V1021.6H1350.9V1022.2H1353.0V1023.7H1355.0V1023.5H1357.1V1024.3H1359.2V1024.4H1361.1V1024.4H1363.0V1025.6H1364.8V1025.2H1366.7V1026.0H1368.6V1026.3H1370.5V1027.7H1372.3V1027.8H1374.2V1027.7H1376.7V1029.9H1379.1V1031.9H1381.0V1033.2H1383.0V1033.2H1384.9V1034.0H1386.8V1034.1H1388.8V1034.8H1390.7V1035.2H1392.8V1035.0H1394.8V1036.9H1396.9V1036.7H1399.0V1037.5H1401.1V1037.5H1403.2V1036.7H1405.2V1037.3H1407.3V1038.5H1409.4V1039.1H1411.4V1038.5H1413.5V1038.7H1415.6V1037.7H1417.5V1038.6H1419.3V1037.4H1421.2V1039.0H1423.1V1038.3H1425.0V1038.7H1426.8V1038.3H1428.7V1037.9H1430.6V1038.5" fill="none" stroke="#000" stroke-width="1.8" stroke-linejoin="miter" stroke-linecap="butt"/>
</svg>
</body></html>
